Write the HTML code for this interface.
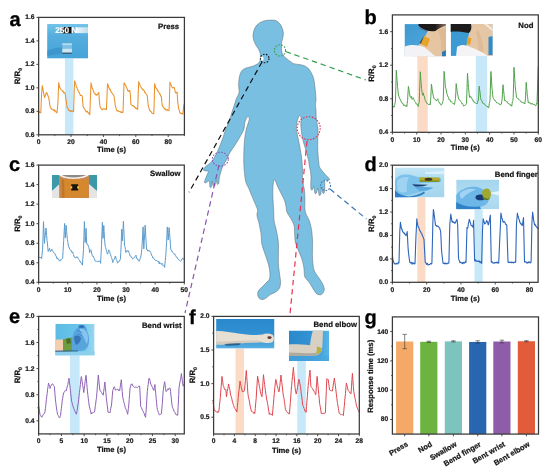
<!DOCTYPE html>
<html><head><meta charset="utf-8"><style>
html,body{margin:0;padding:0;background:#fff;overflow:hidden;}
svg{display:block;font-family:'Liberation Sans',Arial,sans-serif;font-weight:bold}
text{text-rendering:geometricPrecision;stroke:currentColor;stroke-width:0.22px;color:#1a1a1a}
.nos{stroke:none}
</style></head><body>
<svg width="550" height="474" viewBox="0 0 550 474">
<rect width="550" height="474" fill="#fff"/>
<rect x="64.90" y="58.60" width="8.50" height="76.20" fill="#c6e8f9"/>
<rect x="417.30" y="56.30" width="10.50" height="76.00" fill="#fcdbc6"/>
<rect x="475.80" y="56.00" width="11.40" height="76.30" fill="#c6e8f9"/>
<rect x="417.30" y="197.40" width="8.20" height="84.90" fill="#fcdbc6"/>
<rect x="474.50" y="209.30" width="8.20" height="73.00" fill="#c6e8f9"/>
<rect x="70.00" y="355.50" width="9.60" height="78.40" fill="#c6e8f9"/>
<rect x="235.50" y="348.60" width="8.50" height="85.40" fill="#fcdbc6"/>
<rect x="297.30" y="361.00" width="8.50" height="73.00" fill="#c6e8f9"/>
<path d="M38.80,112.72 L39.20,111.30 L39.60,112.55 L40.00,112.40 L40.40,112.64 L40.80,112.92 L41.20,102.79 L41.60,93.92 L41.95,88.95 L42.30,85.67 L42.75,87.88 L43.20,90.98 L43.67,93.23 L44.13,95.33 L44.60,97.43 L45.08,96.24 L45.55,95.12 L46.02,93.44 L46.50,92.44 L46.83,92.66 L47.17,93.38 L47.50,94.54 L47.97,95.76 L48.43,96.96 L48.90,98.64 L49.37,101.76 L49.83,105.11 L50.30,107.21 L50.67,107.69 L51.05,108.60 L51.42,108.41 L51.80,109.10 L52.27,109.74 L52.75,109.85 L53.23,109.91 L53.70,110.34 L54.17,109.44 L54.63,111.13 L55.10,110.76 L55.58,110.99 L56.05,112.15 L56.52,112.77 L57.00,112.84 L57.45,107.87 L57.90,103.51 L58.30,92.78 L58.70,82.60 L59.03,84.10 L59.37,85.63 L59.70,87.69 L60.10,87.81 L60.50,88.13 L60.90,89.25 L61.30,89.83 L61.70,90.12 L62.18,90.52 L62.65,91.48 L63.12,91.12 L63.60,92.84 L64.10,93.07 L64.60,92.62 L65.10,93.52 L65.55,96.26 L66.00,99.97 L66.33,101.18 L66.67,103.78 L67.00,106.55 L67.47,107.97 L67.93,108.07 L68.40,109.92 L68.88,110.42 L69.36,110.29 L69.84,111.26 L70.32,110.48 L70.80,111.22 L71.27,110.73 L71.73,111.60 L72.20,111.09 L72.67,110.97 L73.13,110.49 L73.60,111.69 L73.85,102.82 L74.10,94.27 L74.35,87.75 L74.60,80.82 L75.07,82.04 L75.53,83.55 L76.00,85.12 L76.47,87.15 L76.93,87.42 L77.40,88.99 L77.88,90.04 L78.35,91.18 L78.83,92.25 L79.30,92.56 L79.63,93.06 L79.97,94.33 L80.30,95.43 L80.78,95.49 L81.25,95.53 L81.72,95.56 L82.20,96.00 L82.65,101.01 L83.10,106.59 L83.57,106.99 L84.03,108.28 L84.50,109.16 L84.98,109.86 L85.47,110.21 L85.95,111.50 L86.43,111.59 L86.92,112.06 L87.40,111.28 L87.88,112.36 L88.36,112.75 L88.84,113.63 L89.32,113.12 L89.80,114.81 L90.10,106.93 L90.40,98.24 L90.70,90.56 L91.00,82.82 L91.37,84.52 L91.73,86.13 L92.10,88.02 L92.57,88.43 L93.05,89.97 L93.53,90.95 L94.00,92.72 L94.47,93.09 L94.95,94.03 L95.43,93.90 L95.90,94.93 L96.28,94.59 L96.65,95.28 L97.03,94.86 L97.40,94.39 L97.87,93.71 L98.33,93.40 L98.80,92.35 L99.05,95.82 L99.30,99.87 L99.75,104.37 L100.20,107.21 L100.67,107.90 L101.13,108.49 L101.60,109.23 L102.07,109.63 L102.55,109.50 L103.03,108.95 L103.50,108.82 L103.98,108.91 L104.47,109.08 L104.95,108.66 L105.43,109.21 L105.92,109.57 L106.40,109.42 L106.65,104.03 L106.90,98.41 L107.20,90.98 L107.50,83.80 L107.93,84.62 L108.37,85.98 L108.80,87.59 L109.26,88.39 L109.72,89.62 L110.18,89.14 L110.64,91.04 L111.10,91.43 L111.58,92.30 L112.07,93.20 L112.55,93.93 L113.03,94.57 L113.52,94.90 L114.00,96.07 L114.47,99.00 L114.93,102.65 L115.40,106.58 L115.87,107.37 L116.33,109.59 L116.80,110.46 L117.28,111.12 L117.77,110.59 L118.25,110.72 L118.73,111.16 L119.22,111.61 L119.70,111.39 L120.17,111.86 L120.64,111.85 L121.11,112.55 L121.59,111.88 L122.06,112.61 L122.53,112.14 L123.00,112.16 L123.25,105.35 L123.50,98.28 L123.75,90.70 L124.00,82.96 L124.47,83.29 L124.93,84.09 L125.40,85.07 L125.87,85.86 L126.33,87.10 L126.80,88.20 L127.27,88.83 L127.73,90.77 L128.20,90.98 L128.57,91.48 L128.95,90.89 L129.32,90.95 L129.70,90.18 L130.00,91.81 L130.30,94.13 L130.60,99.00 L130.90,104.34 L131.30,104.79 L131.70,105.10 L132.10,105.46 L132.50,105.61 L132.97,106.06 L133.45,105.60 L133.93,106.52 L134.40,106.38 L134.88,107.67 L135.35,108.20 L135.83,107.54 L136.30,108.75 L136.77,108.82 L137.23,108.66 L137.70,109.39 L137.95,101.44 L138.20,93.38 L138.45,87.71 L138.70,81.55 L139.17,82.90 L139.63,83.70 L140.10,85.62 L140.57,86.63 L141.03,86.93 L141.50,88.07 L141.88,88.62 L142.25,88.80 L142.62,89.96 L143.00,89.77 L143.47,89.81 L143.93,90.36 L144.40,91.08 L144.87,92.71 L145.33,92.64 L145.80,93.54 L146.27,94.18 L146.73,94.49 L147.20,95.80 L147.53,98.28 L147.87,102.20 L148.20,105.46 L148.67,107.19 L149.13,108.12 L149.60,110.72 L150.08,110.64 L150.56,111.27 L151.04,111.51 L151.52,112.16 L152.00,113.20 L152.45,113.47 L152.90,113.52 L153.35,113.80 L153.80,113.75 L154.05,106.11 L154.30,98.99 L154.60,83.71 L154.97,84.73 L155.33,86.29 L155.70,87.75 L156.17,88.02 L156.63,88.44 L157.10,89.45 L157.58,90.73 L158.06,90.85 L158.54,91.75 L159.02,92.59 L159.50,93.93 L159.97,93.68 L160.45,95.28 L160.93,96.39 L161.40,96.51 L161.80,101.62 L162.20,105.59 L162.60,105.81 L163.00,106.67 L163.40,106.66 L163.80,107.60 L164.26,108.82 L164.72,108.25 L165.18,109.59 L165.64,109.29 L166.10,110.05 L166.58,109.95 L167.07,109.38 L167.55,110.20 L168.03,110.70 L168.52,110.46 L169.00,110.63 L169.25,105.03 L169.50,98.47 L169.90,82.00 L170.28,83.06 L170.65,84.30 L171.03,84.53 L171.40,85.73 L171.87,86.90 L172.33,87.34 L172.80,87.90 L173.27,87.51 L173.73,87.62 L174.20,87.61 L174.67,89.29 L175.13,91.29 L175.60,92.84 L175.97,93.01 L176.35,92.63 L176.72,92.59 L177.10,92.14 L177.40,96.55 L177.70,101.43 L178.10,104.51 L178.50,107.86 L178.97,109.64 L179.45,110.56 L179.93,112.83 L180.40,113.33 L180.88,112.96 L181.36,113.63 L181.84,113.67 L182.32,113.48 L182.80,114.29 L183.27,110.16 L183.73,105.89 L184.20,103.78" fill="none" stroke="#ea912a" stroke-width="1.05" stroke-linejoin="round"/>
<path d="M392.40,106.81 L392.82,107.62 L393.24,106.43 L393.66,106.01 L394.08,107.11 L394.50,105.69 L394.83,104.23 L395.17,102.75 L395.50,100.05 L395.90,85.01 L396.30,70.15 L396.70,75.79 L397.10,80.32 L397.50,86.29 L397.90,89.70 L398.30,93.96 L398.70,96.14 L399.15,96.80 L399.60,98.50 L400.05,98.89 L400.50,100.14 L400.96,100.94 L401.42,102.31 L401.88,102.33 L402.34,103.48 L402.80,103.20 L403.23,104.26 L403.65,105.67 L404.07,104.90 L404.50,105.17 L404.96,105.11 L405.42,106.13 L405.88,106.12 L406.34,105.66 L406.80,106.71 L407.20,103.32 L407.60,100.35 L408.00,92.50 L408.40,86.42 L408.77,88.59 L409.13,91.15 L409.50,93.76 L409.83,95.05 L410.17,96.74 L410.50,97.37 L410.90,97.26 L411.30,96.27 L411.75,98.13 L412.20,99.38 L412.63,98.70 L413.07,97.57 L413.50,98.34 L413.88,99.52 L414.25,100.18 L414.62,101.31 L415.00,101.78 L415.38,102.32 L415.75,102.56 L416.12,104.14 L416.50,104.07 L416.93,104.22 L417.35,104.27 L417.77,105.28 L418.20,106.48 L418.53,104.75 L418.87,102.93 L419.20,102.67 L419.57,92.47 L419.93,82.06 L420.30,71.77 L420.70,77.48 L421.10,82.72 L421.50,88.36 L421.83,89.97 L422.17,93.37 L422.50,95.11 L422.90,95.35 L423.30,92.84 L423.63,94.96 L423.97,95.93 L424.30,96.14 L424.63,97.91 L424.97,99.45 L425.30,100.77 L425.70,100.91 L426.10,101.77 L426.50,102.98 L426.95,103.57 L427.40,103.50 L427.85,103.96 L428.30,104.49 L428.77,104.99 L429.25,104.11 L429.73,104.08 L430.20,104.86 L430.50,100.88 L430.80,97.72 L431.10,91.04 L431.40,84.23 L431.77,86.16 L432.13,89.71 L432.50,91.17 L432.83,94.09 L433.17,94.93 L433.50,96.90 L433.88,98.30 L434.25,98.31 L434.62,98.63 L435.00,99.29 L435.38,99.97 L435.75,99.97 L436.12,100.24 L436.50,101.00 L436.93,99.66 L437.37,99.28 L437.80,98.75 L438.20,100.55 L438.60,101.47 L439.00,102.60 L439.38,102.53 L439.75,103.03 L440.12,104.05 L440.50,104.01 L440.93,104.86 L441.37,105.07 L441.80,104.67 L442.27,103.29 L442.73,101.61 L443.20,100.81 L443.65,86.92 L444.10,71.35 L444.50,76.27 L444.90,80.06 L445.30,86.10 L445.77,88.25 L446.25,90.00 L446.73,93.12 L447.20,94.26 L447.65,95.90 L448.10,97.07 L448.55,97.41 L449.00,99.40 L449.38,100.12 L449.75,99.60 L450.12,100.21 L450.50,101.78 L450.92,101.79 L451.34,101.53 L451.76,102.26 L452.18,102.65 L452.60,102.93 L453.08,103.59 L453.55,103.58 L454.02,104.43 L454.50,104.45 L454.83,102.19 L455.17,100.44 L455.50,98.62 L455.85,91.43 L456.20,83.62 L456.57,87.20 L456.93,89.43 L457.30,92.76 L457.70,94.04 L458.10,96.25 L458.50,98.15 L458.88,99.41 L459.25,99.33 L459.62,99.75 L460.00,100.65 L460.40,100.79 L460.80,101.58 L461.20,102.00 L461.60,102.63 L462.00,103.90 L462.40,103.47 L462.80,104.34 L463.20,104.89 L463.60,105.96 L464.00,105.75 L464.42,105.59 L464.83,105.51 L465.25,105.41 L465.67,104.74 L466.08,104.15 L466.50,103.59 L466.83,93.94 L467.17,84.08 L467.50,73.25 L467.83,78.16 L468.17,83.24 L468.50,87.56 L468.83,90.95 L469.17,94.07 L469.50,97.44 L469.87,96.85 L470.23,95.86 L470.60,96.53 L470.93,97.46 L471.27,97.21 L471.60,98.19 L472.07,98.96 L472.53,100.04 L473.00,99.81 L473.47,101.79 L473.93,101.35 L474.40,102.69 L474.85,102.49 L475.30,102.62 L475.75,103.08 L476.20,103.92 L476.65,103.44 L477.10,104.02 L477.50,102.57 L477.90,100.59 L478.30,100.61 L478.75,93.37 L479.20,86.19 L479.53,89.35 L479.87,90.95 L480.20,93.97 L480.57,97.28 L480.93,99.39 L481.30,100.35 L481.74,100.26 L482.18,101.75 L482.62,103.16 L483.06,102.86 L483.50,103.40 L483.97,104.19 L484.44,103.88 L484.91,104.80 L485.39,105.47 L485.86,105.72 L486.33,106.09 L486.80,106.02 L487.22,106.68 L487.64,106.38 L488.06,107.33 L488.48,108.07 L488.90,106.65 L489.27,103.65 L489.63,102.13 L490.00,100.18 L490.45,85.99 L490.90,71.51 L491.27,76.30 L491.63,81.96 L492.00,88.60 L492.33,90.59 L492.67,94.71 L493.00,97.19 L493.40,98.30 L493.80,98.91 L494.20,99.58 L494.60,100.25 L495.00,100.04 L495.42,101.10 L495.84,101.43 L496.26,102.02 L496.68,102.92 L497.10,102.67 L497.58,102.75 L498.06,103.02 L498.54,103.49 L499.02,104.27 L499.50,103.82 L499.95,104.92 L500.40,104.69 L500.85,104.62 L501.30,104.27 L501.75,101.57 L502.20,98.32 L502.60,90.27 L503.00,84.76 L503.33,88.24 L503.67,90.89 L504.00,94.23 L504.35,98.13 L504.70,100.58 L505.16,100.08 L505.62,100.99 L506.08,101.43 L506.54,101.93 L507.00,101.39 L507.43,103.14 L507.87,102.77 L508.30,103.43 L508.73,103.57 L509.17,104.33 L509.60,104.06 L510.02,104.11 L510.44,105.01 L510.86,105.70 L511.28,105.17 L511.70,106.24 L512.08,103.82 L512.45,101.55 L512.83,100.62 L513.20,97.62 L513.60,83.28 L514.00,67.37 L514.40,73.94 L514.80,79.29 L515.20,85.61 L515.63,90.27 L516.07,93.62 L516.50,97.32 L516.90,97.53 L517.30,98.39 L517.70,97.96 L518.10,98.53 L518.50,99.43 L518.94,99.43 L519.38,99.82 L519.81,100.44 L520.25,100.74 L520.69,101.02 L521.12,102.23 L521.56,102.25 L522.00,102.68 L522.47,102.44 L522.93,102.56 L523.40,102.47 L523.87,103.34 L524.33,102.87 L524.80,103.93 L525.15,101.46 L525.50,98.76 L525.85,90.85 L526.20,82.40 L526.53,86.76 L526.87,89.90 L527.20,94.39 L527.53,96.41 L527.87,99.34 L528.20,102.61 L528.67,102.18 L529.13,103.20 L529.60,102.53 L530.07,102.65 L530.53,103.78 L531.00,104.31 L531.42,103.41 L531.83,103.87 L532.25,103.33 L532.67,104.07 L533.08,104.75 L533.50,104.46 L533.96,104.45 L534.42,104.28 L534.88,105.33 L535.34,105.75 L535.80,105.88 L536.20,104.85 L536.60,103.27 L537.00,103.83 L537.43,90.64 L537.87,78.27 L538.30,66.34" fill="none" stroke="#4ea24a" stroke-width="1.0" stroke-linejoin="round"/>
<path d="M38.30,256.89 L38.72,257.64 L39.15,257.39 L39.58,257.40 L40.00,257.63 L40.40,257.62 L40.80,256.94 L41.20,258.04 L41.60,258.70 L41.93,255.80 L42.27,252.27 L42.60,249.22 L43.05,236.01 L43.50,221.66 L43.83,228.52 L44.17,234.76 L44.50,243.43 L44.85,237.94 L45.20,235.83 L45.60,233.03 L46.00,228.03 L46.33,232.18 L46.67,235.48 L47.00,240.64 L47.40,243.19 L47.80,247.72 L48.20,251.46 L48.63,250.11 L49.07,250.22 L49.50,248.34 L49.83,249.68 L50.17,250.99 L50.50,251.81 L50.93,251.29 L51.37,250.57 L51.80,249.06 L52.20,249.71 L52.60,250.49 L53.00,251.33 L53.40,252.38 L53.80,252.40 L54.20,253.19 L54.60,253.46 L55.00,253.60 L55.48,255.38 L55.95,255.46 L56.42,256.93 L56.90,258.60 L57.37,257.92 L57.83,258.94 L58.30,258.76 L58.67,259.76 L59.05,259.80 L59.42,260.83 L59.80,261.25 L60.20,260.73 L60.60,260.58 L61.00,259.13 L61.42,259.21 L61.85,258.78 L62.28,258.59 L62.70,258.21 L63.03,251.56 L63.37,246.23 L63.70,240.76 L64.15,232.07 L64.60,223.45 L64.95,231.62 L65.30,237.80 L65.70,231.66 L66.10,225.33 L66.55,230.50 L67.00,235.88 L67.38,239.69 L67.75,241.40 L68.12,243.77 L68.50,246.72 L68.88,247.52 L69.25,247.45 L69.62,248.93 L70.00,249.83 L70.38,250.15 L70.75,250.78 L71.12,250.40 L71.50,250.70 L71.88,252.48 L72.25,252.76 L72.62,251.90 L73.00,253.10 L73.47,254.41 L73.93,256.06 L74.40,257.30 L74.80,257.16 L75.20,257.69 L75.60,257.87 L76.00,257.98 L76.40,257.13 L76.80,256.60 L77.20,257.63 L77.60,257.23 L78.00,258.12 L78.42,259.00 L78.83,259.46 L79.25,259.83 L79.67,260.70 L80.08,261.88 L80.50,261.66 L80.97,263.06 L81.45,263.58 L81.93,264.00 L82.40,265.18 L82.77,259.33 L83.13,255.28 L83.50,249.56 L83.95,235.64 L84.40,221.50 L84.80,232.66 L85.20,242.46 L85.65,235.92 L86.10,228.37 L86.40,236.40 L86.70,243.76 L87.12,243.58 L87.55,244.82 L87.98,244.89 L88.40,246.22 L88.80,247.55 L89.20,249.06 L89.60,252.80 L90.00,251.34 L90.40,250.21 L90.80,249.69 L91.17,250.74 L91.53,252.92 L91.90,254.00 L92.30,255.95 L92.70,256.31 L93.10,255.97 L93.50,256.79 L93.97,258.21 L94.45,258.55 L94.93,260.37 L95.40,261.38 L95.82,260.96 L96.24,260.98 L96.66,261.39 L97.08,261.75 L97.50,261.70 L97.92,261.08 L98.33,261.53 L98.75,260.85 L99.17,261.46 L99.58,260.88 L100.00,261.74 L100.30,262.02 L100.60,263.35 L101.05,254.40 L101.50,245.26 L101.95,233.08 L102.40,222.25 L102.70,230.41 L103.00,238.31 L103.40,231.41 L103.80,225.45 L104.15,231.57 L104.50,238.66 L104.90,243.01 L105.30,246.88 L105.70,247.47 L106.10,249.55 L106.50,251.05 L106.87,251.91 L107.23,253.58 L107.60,254.27 L108.00,252.29 L108.40,251.72 L108.80,249.85 L109.22,251.30 L109.65,251.50 L110.08,253.41 L110.50,254.21 L110.96,256.38 L111.42,257.23 L111.88,258.72 L112.34,260.23 L112.80,262.59 L113.20,261.35 L113.60,260.31 L114.00,259.52 L114.38,258.61 L114.75,258.89 L115.12,256.45 L115.50,256.00 L115.92,257.96 L116.34,259.47 L116.76,260.11 L117.18,261.81 L117.60,263.06 L118.07,262.60 L118.53,261.59 L119.00,261.78 L119.47,260.50 L119.93,260.53 L120.40,258.69 L120.80,252.55 L121.20,244.42 L121.45,236.21 L121.70,229.05 L122.05,234.33 L122.40,240.82 L122.73,233.65 L123.07,228.44 L123.40,221.22 L123.77,228.52 L124.13,236.97 L124.50,245.13 L124.97,246.66 L125.43,249.56 L125.90,252.58 L126.33,251.66 L126.77,250.89 L127.20,250.26 L127.67,251.39 L128.13,251.01 L128.60,250.90 L129.07,252.94 L129.55,253.67 L130.03,255.92 L130.50,256.09 L130.96,256.20 L131.42,256.76 L131.88,258.18 L132.34,258.20 L132.80,258.96 L133.27,258.62 L133.73,258.14 L134.20,257.58 L134.67,256.75 L135.13,256.47 L135.60,255.83 L136.00,255.13 L136.40,257.99 L136.80,257.72 L137.20,259.12 L137.65,258.89 L138.10,260.09 L138.55,260.73 L139.00,261.39 L139.40,260.91 L139.80,259.98 L140.20,258.39 L140.60,257.98 L141.00,255.54 L141.40,252.69 L141.80,249.38 L142.23,242.04 L142.67,234.73 L143.10,226.92 L143.45,237.18 L143.80,248.87 L144.27,240.38 L144.73,233.05 L145.20,225.08 L145.67,234.08 L146.13,242.32 L146.60,249.43 L147.00,250.03 L147.40,249.68 L147.80,251.11 L148.20,250.97 L148.65,250.24 L149.10,251.32 L149.55,251.00 L150.00,251.13 L150.40,252.12 L150.80,252.66 L151.20,253.74 L151.60,255.31 L152.00,256.01 L152.44,256.23 L152.88,258.27 L153.32,257.86 L153.76,258.33 L154.20,258.91 L154.67,259.86 L155.13,260.29 L155.60,260.25 L156.07,260.84 L156.53,260.03 L157.00,260.86 L157.45,261.09 L157.90,261.60 L158.35,262.11 L158.80,261.21 L159.25,263.91 L159.70,262.32 L160.16,263.25 L160.62,263.84 L161.08,264.21 L161.54,264.28 L162.00,263.16 L162.43,264.40 L162.87,265.65 L163.30,265.24 L163.73,265.56 L164.17,265.34 L164.60,267.39 L164.93,264.13 L165.27,260.54 L165.60,257.96 L165.93,252.84 L166.27,247.23 L166.60,242.49 L166.95,234.78 L167.30,226.97 L167.75,233.96 L168.20,240.03 L168.65,233.50 L169.10,227.60 L169.53,232.64 L169.95,237.87 L170.38,244.52 L170.80,249.33 L171.23,250.19 L171.65,251.06 L172.07,250.87 L172.50,252.31 L172.98,252.82 L173.46,253.16 L173.94,253.99 L174.42,254.05 L174.90,253.97 L175.33,255.38 L175.77,255.58 L176.20,256.92 L176.63,257.13 L177.07,257.26 L177.50,258.03 L177.98,259.19 L178.47,259.64 L178.95,259.83 L179.43,260.41 L179.92,260.63 L180.40,261.25 L180.80,261.13 L181.20,260.35 L181.60,260.10 L182.00,258.98 L182.40,258.39 L182.80,258.04 L183.20,258.30 L183.60,259.30 L184.00,259.40 L184.40,258.54" fill="none" stroke="#5b9bcc" stroke-width="1.0" stroke-linejoin="round"/>
<path d="M392.40,255.78 L392.80,258.88 L393.20,260.72 L393.60,261.87 L394.07,263.34 L394.53,263.26 L395.00,264.13 L395.42,263.72 L395.83,264.02 L396.25,263.81 L396.67,263.26 L397.08,263.65 L397.50,263.49 L397.88,263.87 L398.25,262.69 L398.62,262.11 L399.00,262.83 L399.40,246.79 L399.80,230.68 L400.10,226.97 L400.40,222.20 L400.77,224.61 L401.13,226.72 L401.50,229.00 L401.90,228.87 L402.30,230.75 L402.70,231.76 L403.10,232.06 L403.57,232.73 L404.03,233.40 L404.50,233.03 L404.88,234.13 L405.25,234.73 L405.62,235.07 L406.00,235.68 L406.40,234.10 L406.80,233.62 L407.20,231.58 L407.53,237.55 L407.87,244.27 L408.20,249.67 L408.57,253.20 L408.95,256.50 L409.32,259.04 L409.70,262.06 L410.16,262.74 L410.62,262.96 L411.08,262.18 L411.54,262.59 L412.00,264.13 L412.43,263.73 L412.86,262.62 L413.29,263.00 L413.71,263.69 L414.14,263.26 L414.57,263.98 L415.00,263.84 L415.33,254.44 L415.67,244.06 L416.00,235.30 L416.40,228.03 L416.80,218.84 L417.20,222.09 L417.60,224.20 L418.00,226.31 L418.43,227.15 L418.87,227.80 L419.30,229.10 L419.70,230.37 L420.10,230.97 L420.50,231.58 L420.83,232.29 L421.17,233.10 L421.50,233.31 L421.88,233.80 L422.25,235.31 L422.62,236.30 L423.00,236.95 L423.33,237.23 L423.67,238.73 L424.00,239.32 L424.40,247.41 L424.80,254.19 L425.20,261.93 L425.65,262.74 L426.10,263.23 L426.55,264.38 L427.00,263.79 L427.43,263.29 L427.86,264.75 L428.29,264.97 L428.71,264.98 L429.14,264.45 L429.57,264.57 L430.00,264.37 L430.48,263.51 L430.95,263.65 L431.42,263.95 L431.90,263.24 L432.35,245.16 L432.80,224.29 L433.10,216.76 L433.40,209.43 L433.77,211.66 L434.13,214.45 L434.50,217.38 L434.87,220.04 L435.23,223.46 L435.60,225.31 L436.07,225.66 L436.53,225.47 L437.00,226.41 L437.46,226.33 L437.92,226.10 L438.38,226.58 L438.84,227.15 L439.30,227.86 L439.77,228.52 L440.23,230.02 L440.70,231.96 L441.10,240.14 L441.50,249.43 L441.88,253.73 L442.25,256.72 L442.62,259.72 L443.00,263.14 L443.43,262.98 L443.86,263.49 L444.29,263.20 L444.71,263.85 L445.14,263.04 L445.57,263.32 L446.00,263.87 L446.48,263.46 L446.97,263.88 L447.45,263.40 L447.93,263.03 L448.42,263.25 L448.90,262.77 L449.35,243.29 L449.80,224.49 L450.13,220.98 L450.47,217.46 L450.80,214.06 L451.20,216.78 L451.60,218.94 L452.00,221.85 L452.38,221.87 L452.75,221.43 L453.12,222.54 L453.50,222.57 L453.88,222.06 L454.25,222.67 L454.62,223.28 L455.00,223.13 L455.40,222.74 L455.80,221.69 L456.20,221.07 L456.60,219.83 L457.00,219.40 L457.35,221.95 L457.70,225.34 L458.10,240.73 L458.50,258.18 L458.88,259.73 L459.25,260.54 L459.62,261.39 L460.00,262.77 L460.43,262.23 L460.86,262.33 L461.29,262.65 L461.71,262.85 L462.14,263.47 L462.57,262.70 L463.00,263.69 L463.43,262.31 L463.86,262.51 L464.29,262.69 L464.71,263.08 L465.14,262.08 L465.57,261.19 L466.00,262.22 L466.33,250.67 L466.67,238.85 L467.00,227.53 L467.35,227.70 L467.70,228.07 L468.07,226.13 L468.45,222.93 L468.82,222.49 L469.20,219.20 L469.64,220.23 L470.08,221.90 L470.52,222.81 L470.96,225.04 L471.40,225.63 L471.77,225.50 L472.15,226.04 L472.52,226.54 L472.90,227.16 L473.25,224.34 L473.60,220.42 L473.93,234.74 L474.27,247.22 L474.60,260.45 L475.05,261.08 L475.50,259.83 L475.95,260.43 L476.40,261.27 L476.85,261.11 L477.30,261.21 L477.74,261.53 L478.18,261.18 L478.62,261.50 L479.06,261.06 L479.50,260.94 L479.94,262.59 L480.38,261.74 L480.82,262.02 L481.26,263.19 L481.70,263.22 L482.10,246.12 L482.50,229.77 L482.85,224.58 L483.20,218.77 L483.57,220.58 L483.95,221.49 L484.32,222.58 L484.70,223.97 L485.14,223.37 L485.58,223.32 L486.02,222.59 L486.46,220.50 L486.90,221.14 L487.27,221.29 L487.65,222.25 L488.02,224.35 L488.40,224.79 L488.88,222.57 L489.35,220.82 L489.82,217.61 L490.30,215.10 L490.63,231.17 L490.97,247.09 L491.30,262.27 L491.75,261.37 L492.20,261.88 L492.65,262.20 L493.10,263.26 L493.55,262.85 L494.00,262.92 L494.47,263.10 L494.94,262.41 L495.41,262.80 L495.88,262.83 L496.35,262.16 L496.82,262.63 L497.29,262.92 L497.76,262.17 L498.23,263.08 L498.70,263.07 L499.07,254.90 L499.45,245.76 L499.82,237.87 L500.20,230.20 L500.55,221.79 L500.90,212.95 L501.35,215.27 L501.80,217.68 L502.25,218.83 L502.70,220.90 L503.18,222.27 L503.65,221.40 L504.12,221.72 L504.60,221.65 L505.04,222.55 L505.48,224.29 L505.92,224.27 L506.36,224.52 L506.80,225.38 L507.20,237.88 L507.60,250.31 L508.00,261.67 L508.43,262.42 L508.86,261.93 L509.29,262.39 L509.71,262.54 L510.14,262.65 L510.57,262.24 L511.00,262.43 L511.47,262.73 L511.94,261.86 L512.41,262.53 L512.88,262.67 L513.35,262.90 L513.82,262.37 L514.29,262.28 L514.76,262.41 L515.23,261.98 L515.70,262.21 L516.05,243.89 L516.40,225.23 L516.73,220.91 L517.07,217.55 L517.40,213.01 L517.88,216.00 L518.36,216.99 L518.84,218.97 L519.32,219.96 L519.80,222.06 L520.22,222.92 L520.63,223.79 L521.05,223.31 L521.47,224.96 L521.88,225.10 L522.30,225.43 L522.70,223.32 L523.10,220.26 L523.50,217.55 L523.83,232.13 L524.17,247.33 L524.50,262.01 L524.94,261.97 L525.38,261.67 L525.81,261.94 L526.25,262.43 L526.69,262.90 L527.12,262.35 L527.56,263.09 L528.00,262.49 L528.44,261.95 L528.89,262.73 L529.33,261.95 L529.77,262.56 L530.21,262.85 L530.66,262.18 L531.10,262.25 L531.50,244.10 L531.90,223.70 L532.25,217.81 L532.60,212.16 L532.98,214.70 L533.35,217.65 L533.73,220.82 L534.10,222.47 L534.54,224.85 L534.98,224.29 L535.42,224.89 L535.86,226.24 L536.30,226.60 L536.70,226.59 L537.10,227.85 L537.50,227.80 L537.90,228.59 L538.30,228.79" fill="none" stroke="#2c66bb" stroke-width="1.1" stroke-linejoin="round"/>
<path d="M38.30,403.30 L38.72,406.43 L39.15,409.04 L39.58,411.80 L40.00,414.72 L40.33,414.91 L40.67,415.23 L41.00,415.90 L41.33,416.94 L41.67,416.74 L42.00,417.21 L42.38,416.28 L42.75,415.63 L43.12,414.92 L43.50,413.99 L43.90,413.84 L44.30,413.52 L44.70,413.40 L45.03,411.27 L45.37,408.82 L45.70,406.32 L46.03,402.98 L46.37,399.64 L46.70,397.12 L47.15,393.59 L47.60,389.31 L48.05,386.60 L48.50,383.00 L48.90,384.73 L49.30,385.10 L49.70,386.39 L50.10,388.47 L50.57,386.50 L51.03,385.80 L51.50,384.61 L51.93,384.34 L52.37,383.72 L52.80,384.01 L53.20,385.11 L53.60,385.60 L54.00,386.28 L54.40,386.67 L54.85,392.90 L55.30,398.18 L55.75,402.51 L56.20,405.75 L56.63,409.12 L57.07,411.29 L57.50,414.52 L57.90,415.15 L58.30,415.36 L58.70,416.50 L59.10,417.53 L59.50,417.97 L59.83,417.41 L60.17,416.30 L60.50,415.76 L60.92,411.86 L61.35,408.55 L61.78,405.17 L62.20,401.15 L62.67,398.30 L63.13,395.21 L63.60,393.06 L64.07,392.35 L64.53,391.30 L65.00,390.89 L65.43,390.95 L65.87,390.32 L66.30,390.78 L66.70,388.81 L67.10,387.04 L67.50,385.83 L67.88,384.58 L68.25,381.72 L68.62,380.35 L69.00,378.25 L69.40,382.07 L69.80,385.19 L70.25,388.86 L70.70,393.19 L71.15,397.02 L71.60,401.34 L72.07,402.73 L72.55,405.20 L73.03,406.22 L73.50,408.16 L73.98,408.84 L74.47,410.18 L74.95,411.21 L75.43,412.33 L75.92,413.65 L76.40,414.22 L76.77,411.97 L77.13,410.53 L77.50,407.90 L77.88,404.99 L78.25,402.86 L78.62,399.95 L79.00,395.98 L79.46,392.59 L79.92,388.82 L80.38,384.66 L80.84,380.01 L81.30,376.55 L81.72,378.43 L82.13,381.33 L82.55,384.15 L82.97,386.80 L83.38,389.79 L83.80,392.57 L84.24,388.69 L84.68,385.70 L85.12,381.47 L85.56,378.13 L86.00,375.31 L86.38,379.07 L86.75,383.73 L87.12,387.53 L87.50,391.92 L87.90,395.22 L88.30,398.57 L88.70,401.64 L89.10,405.02 L89.52,406.99 L89.94,408.91 L90.36,410.27 L90.78,412.20 L91.20,414.03 L91.60,413.01 L92.00,412.51 L92.40,413.30 L92.80,412.87 L93.22,412.43 L93.65,412.53 L94.08,412.08 L94.50,411.93 L94.83,410.06 L95.17,406.96 L95.50,405.33 L95.83,402.07 L96.17,399.71 L96.50,397.59 L96.95,392.20 L97.40,386.07 L97.85,381.16 L98.30,375.05 L98.70,378.91 L99.10,382.94 L99.50,387.00 L99.90,390.01 L100.30,390.98 L100.70,391.40 L101.10,391.49 L101.50,392.46 L101.95,393.64 L102.40,393.68 L102.85,394.49 L103.30,395.20 L103.70,391.28 L104.10,388.59 L104.50,385.31 L104.90,381.97 L105.37,387.40 L105.83,392.31 L106.30,397.80 L106.72,401.16 L107.15,404.54 L107.58,408.00 L108.00,412.06 L108.40,412.44 L108.80,411.92 L109.20,412.65 L109.60,412.14 L110.00,412.69 L110.38,410.51 L110.75,408.33 L111.12,406.98 L111.50,405.03 L111.93,400.10 L112.37,395.29 L112.80,390.36 L113.23,389.29 L113.67,387.76 L114.10,386.69 L114.57,387.31 L115.03,388.95 L115.50,390.18 L115.90,390.34 L116.30,390.17 L116.70,389.77 L117.10,389.36 L117.50,388.86 L117.94,389.74 L118.38,390.48 L118.82,390.81 L119.26,389.57 L119.70,390.44 L120.10,387.83 L120.50,384.84 L120.90,382.52 L121.30,379.72 L121.77,385.49 L122.23,391.62 L122.70,397.04 L123.12,398.88 L123.53,400.52 L123.95,402.77 L124.37,403.50 L124.78,405.61 L125.20,407.58 L125.62,408.32 L126.03,409.65 L126.45,410.17 L126.87,411.59 L127.28,412.79 L127.70,414.29 L128.07,410.93 L128.43,408.34 L128.80,405.01 L129.20,399.37 L129.60,394.22 L130.00,388.21 L130.47,386.87 L130.93,384.99 L131.40,383.85 L131.87,384.64 L132.33,384.21 L132.80,385.86 L133.27,386.06 L133.73,386.77 L134.20,387.27 L134.69,387.56 L135.17,386.92 L135.66,387.05 L136.14,387.04 L136.63,387.41 L137.11,387.63 L137.60,387.57 L138.02,387.16 L138.44,386.54 L138.86,385.85 L139.28,386.33 L139.70,385.96 L140.03,392.94 L140.37,400.21 L140.70,406.55 L141.18,407.50 L141.66,407.71 L142.14,409.69 L142.62,410.43 L143.10,411.15 L143.52,412.48 L143.93,412.91 L144.35,414.02 L144.77,415.84 L145.18,416.34 L145.60,417.34 L146.05,411.27 L146.50,405.24 L146.90,397.93 L147.30,391.52 L147.73,387.58 L148.15,384.77 L148.57,381.33 L149.00,378.19 L149.48,378.83 L149.96,380.39 L150.44,382.99 L150.92,384.35 L151.40,385.05 L151.82,386.11 L152.23,387.26 L152.65,387.61 L153.07,389.50 L153.48,389.42 L153.90,390.45 L154.23,387.67 L154.57,387.11 L154.90,384.53 L155.32,389.64 L155.74,393.27 L156.16,398.30 L156.58,402.77 L157.00,407.38 L157.40,409.42 L157.80,410.86 L158.20,411.93 L158.60,412.68 L159.00,414.52 L159.48,414.68 L159.96,414.40 L160.44,414.41 L160.92,414.37 L161.40,413.89 L161.85,408.69 L162.30,403.57 L162.75,396.50 L163.20,390.73 L163.67,388.00 L164.13,384.22 L164.60,381.66 L165.07,384.57 L165.53,388.42 L166.00,391.61 L166.40,391.27 L166.80,390.89 L167.20,390.44 L167.60,389.95 L168.00,388.65 L168.42,389.76 L168.84,388.80 L169.26,388.21 L169.68,388.08 L170.10,388.11 L170.52,391.37 L170.94,395.29 L171.36,398.99 L171.78,403.07 L172.20,406.34 L172.69,407.85 L173.17,408.89 L173.66,409.80 L174.14,411.38 L174.63,412.04 L175.11,412.70 L175.60,414.30 L176.02,414.38 L176.44,414.47 L176.86,414.70 L177.28,415.59 L177.70,414.98 L178.10,407.61 L178.50,399.91 L178.75,394.46 L179.00,387.98 L179.48,384.94 L179.96,382.01 L180.44,379.85 L180.92,377.14 L181.40,373.54 L181.85,376.97 L182.30,380.58 L182.75,383.84 L183.20,386.13 L183.53,385.59 L183.87,385.16 L184.20,383.81" fill="none" stroke="#8e62b6" stroke-width="1.0" stroke-linejoin="round"/>
<path d="M213.00,401.64 L213.37,404.34 L213.73,406.81 L214.10,410.02 L214.57,410.48 L215.05,410.25 L215.53,411.16 L216.00,411.89 L216.38,411.72 L216.75,412.13 L217.12,411.76 L217.50,412.58 L217.97,411.59 L218.43,412.30 L218.90,411.24 L219.37,406.55 L219.83,401.88 L220.30,397.45 L220.73,392.08 L221.15,386.66 L221.57,381.43 L222.00,376.43 L222.40,379.44 L222.80,381.95 L223.20,385.43 L223.60,386.08 L224.00,387.50 L224.40,388.90 L224.87,389.74 L225.33,389.22 L225.80,389.51 L226.15,393.55 L226.50,396.80 L226.83,394.61 L227.17,391.54 L227.50,390.00 L227.87,388.46 L228.23,386.37 L228.60,383.93 L229.07,386.54 L229.53,388.23 L230.00,390.56 L230.43,393.96 L230.87,395.64 L231.30,397.08 L231.77,398.68 L232.23,400.99 L232.70,402.23 L233.17,404.27 L233.63,405.45 L234.10,407.23 L234.57,408.18 L235.03,408.53 L235.50,409.02 L235.97,410.08 L236.43,411.05 L236.90,412.02 L237.33,407.24 L237.77,402.41 L238.20,397.78 L238.65,393.13 L239.10,389.79 L239.55,385.85 L240.00,381.12 L240.48,383.28 L240.96,385.88 L241.44,387.88 L241.92,389.94 L242.40,392.04 L242.82,391.55 L243.24,391.12 L243.66,391.49 L244.08,391.39 L244.50,390.32 L244.95,385.67 L245.40,380.77 L245.85,375.54 L246.30,370.43 L246.70,376.26 L247.10,381.40 L247.50,387.77 L247.90,393.39 L248.30,396.37 L248.70,398.07 L249.10,399.75 L249.50,401.99 L249.97,404.95 L250.45,407.26 L250.93,409.11 L251.40,411.35 L251.89,411.18 L252.37,411.88 L252.86,412.23 L253.34,412.33 L253.83,413.50 L254.31,412.53 L254.80,413.45 L255.27,408.34 L255.73,403.05 L256.20,398.19 L256.67,389.97 L257.13,383.06 L257.60,376.23 L258.05,378.77 L258.50,381.12 L258.95,383.52 L259.40,386.71 L259.85,388.49 L260.30,391.19 L260.73,393.30 L261.15,394.81 L261.57,395.90 L262.00,396.69 L262.38,391.14 L262.75,385.58 L263.12,379.94 L263.50,374.65 L263.88,378.54 L264.25,381.47 L264.62,384.43 L265.00,387.72 L265.40,390.33 L265.80,393.92 L266.20,395.53 L266.60,399.09 L267.05,400.90 L267.50,403.45 L267.95,405.72 L268.40,409.00 L268.85,411.05 L269.30,414.46 L269.74,413.32 L270.19,413.50 L270.63,414.30 L271.07,414.49 L271.51,414.39 L271.96,413.98 L272.40,415.40 L272.88,409.71 L273.36,404.27 L273.84,398.54 L274.32,393.59 L274.80,387.79 L275.13,385.00 L275.47,381.92 L275.80,379.43 L276.23,380.82 L276.65,382.86 L277.07,385.37 L277.50,387.06 L277.88,388.25 L278.25,389.45 L278.62,391.14 L279.00,391.85 L279.40,388.93 L279.80,386.16 L280.20,382.26 L280.60,378.52 L281.00,375.06 L281.42,379.27 L281.84,382.53 L282.26,386.14 L282.68,390.17 L283.10,393.79 L283.53,396.75 L283.97,398.20 L284.40,401.54 L284.73,403.45 L285.07,406.49 L285.40,409.41 L285.80,410.08 L286.20,411.08 L286.60,411.30 L287.00,411.67 L287.42,412.65 L287.83,412.38 L288.25,413.02 L288.67,413.81 L289.08,413.65 L289.50,413.76 L289.92,407.91 L290.34,402.55 L290.76,396.93 L291.18,390.77 L291.60,385.78 L292.05,380.64 L292.50,376.45 L292.95,371.56 L293.40,367.42 L293.80,372.37 L294.20,377.07 L294.60,382.03 L295.00,387.23 L295.40,389.86 L295.80,392.05 L296.20,394.03 L296.63,392.09 L297.07,390.53 L297.50,387.40 L297.97,385.10 L298.43,381.53 L298.90,379.26 L299.32,380.86 L299.75,383.24 L300.18,385.15 L300.60,387.79 L301.00,391.25 L301.40,394.74 L301.80,396.88 L302.20,400.35 L302.60,405.07 L303.08,405.60 L303.55,406.84 L304.02,408.60 L304.50,409.05 L304.90,411.07 L305.30,411.05 L305.70,410.99 L306.10,412.41 L306.52,406.52 L306.94,401.12 L307.36,396.40 L307.78,391.10 L308.20,385.54 L308.65,381.70 L309.10,377.27 L309.55,373.26 L310.00,370.12 L310.45,378.56 L310.90,386.55 L311.37,387.23 L311.83,387.66 L312.30,388.45 L312.77,388.87 L313.23,390.52 L313.70,390.40 L314.12,391.56 L314.54,392.24 L314.96,392.57 L315.38,394.56 L315.80,394.57 L316.23,388.43 L316.67,382.74 L317.10,376.38 L317.52,381.09 L317.93,385.13 L318.35,390.05 L318.77,394.25 L319.18,398.13 L319.60,403.37 L320.03,405.64 L320.45,407.76 L320.88,410.85 L321.30,413.45 L321.76,413.96 L322.21,413.00 L322.67,413.60 L323.12,413.27 L323.58,413.52 L324.03,413.21 L324.49,413.28 L324.94,413.48 L325.40,412.88 L325.87,401.06 L326.33,390.30 L326.80,378.65 L327.27,379.07 L327.73,379.50 L328.20,379.43 L328.67,383.39 L329.13,386.42 L329.60,389.95 L330.05,390.42 L330.50,390.55 L330.95,390.53 L331.40,390.82 L331.85,390.72 L332.30,390.99 L332.72,388.49 L333.14,385.98 L333.56,382.78 L333.98,380.47 L334.40,378.10 L334.87,382.09 L335.33,385.26 L335.80,389.54 L336.27,393.30 L336.73,397.28 L337.20,401.21 L337.60,403.58 L338.00,406.17 L338.40,408.42 L338.80,410.75 L339.20,413.41 L339.67,413.73 L340.13,414.22 L340.60,414.15 L341.07,414.52 L341.53,414.99 L342.00,414.39 L342.47,414.86 L342.93,415.38 L343.40,415.43 L343.82,410.50 L344.24,406.65 L344.66,401.71 L345.08,396.83 L345.50,393.29 L345.95,387.37 L346.40,383.01 L346.85,384.68 L347.30,386.86 L347.75,388.92 L348.20,390.33 L348.67,391.15 L349.13,391.70 L349.60,391.96 L350.07,393.30 L350.53,393.51 L351.00,393.91 L351.47,386.88 L351.93,380.10 L352.40,373.37 L352.87,379.59 L353.33,386.62 L353.80,391.72 L354.25,394.04 L354.70,396.89 L355.15,398.51 L355.60,401.32 L356.05,403.30 L356.50,405.92 L356.95,406.91 L357.40,408.28 L357.85,409.19 L358.30,410.36 L358.75,411.15 L359.20,412.39" fill="none" stroke="#e0474f" stroke-width="1.0" stroke-linejoin="round"/>
<defs><linearGradient id="ga" x1="0" y1="0" x2="0" y2="1"><stop offset="0" stop-color="#74c4ea"/><stop offset="0.35" stop-color="#55aedd"/><stop offset="1" stop-color="#45a3d8"/></linearGradient></defs>
<clipPath id="cp1"><rect x="47.1" y="23.9" width="40.90" height="34.70"/></clipPath>
<g clip-path="url(#cp1)">
<rect x="47.1" y="23.9" width="40.90" height="34.70" fill="url(#ga)"/>
<path d="M47,51 C53,48 58,47 63,47.5 L63,53.5 C58,54 52,55 47,56 Z" fill="#2f86c2" opacity="0.45"/>
<rect x="62.3" y="43.5" width="9.6" height="10.6" fill="#8cc6e6" opacity="0.8"/>
<rect x="62.3" y="43.5" width="9.6" height="1.2" fill="#d8ecf6" opacity="0.9"/>
<rect x="62.3" y="48.8" width="9.6" height="3.8" fill="#e4f1f8" opacity="0.75"/>
<rect x="62.3" y="52.6" width="9.6" height="1.4" fill="#25405a" opacity="0.75"/>
<defs><linearGradient id="ga2" x1="0" y1="0" x2="1" y2="0"><stop offset="0" stop-color="#ffffff"/><stop offset="1" stop-color="#c8dfec"/></linearGradient></defs>
<rect x="76" y="27.3" width="12" height="5.8" fill="url(#ga2)" opacity="0.9"/>
<rect x="61.8" y="27.0" width="10" height="6.4" fill="#111"/>
<text x="55.2" y="33.3" font-size="8.3" fill="#fff" style="stroke:#fff;stroke-width:0.15px">250 N</text>
</g>
<defs><linearGradient id="gb1" x1="0" y1="0" x2="1" y2="1"><stop offset="0" stop-color="#3d98d0"/><stop offset="1" stop-color="#5aaee0"/></linearGradient></defs>
<clipPath id="cp2"><rect x="404.5" y="24.1" width="41.40" height="32.20"/></clipPath>
<g clip-path="url(#cp2)">
<rect x="404.5" y="24.1" width="41.40" height="32.20" fill="url(#gb1)"/>
<path d="M431,24 C428,32 424,38 419,45 L414,57 L446,57 L446,24 Z" fill="#e6c6a2"/>
<path d="M438,30 C441,38 442,45 441,52 L446,56 L446,28 Z" fill="#d9b48e" opacity="0.7"/>
<defs><linearGradient id="ghair" x1="0" y1="0" x2="1" y2="0"><stop offset="0" stop-color="#1c1818"/><stop offset="0.6" stop-color="#1e1a1a"/><stop offset="1" stop-color="#8a7262"/></linearGradient></defs>
<path d="M418.5,24 L446,24 L446,25.5 C442,26.5 438.5,28.5 435.5,31 C432,31.6 429,31.2 426,30.2 C423,29.2 420.5,27.5 418.5,25.8 Z" fill="url(#ghair)"/>
<path d="M419,27 C422,28.5 425,30 428,30.8 L427,31.6 C424,31 421,29.8 419,28.5 Z" fill="#5a6a7a" opacity="0.6"/>
<path d="M424,36 L430,39 L427,47 L421,44 Z" fill="#e7a427"/>
<path d="M422.5,38 L424,36 L421,44 L419.5,43 Z" fill="#3a3a3a" opacity="0.8"/>
<path d="M404,47 C410,44 418,45 424,47 C428,50 432,53 436,57 L404,57 Z" fill="#f3f3f5"/>
<path d="M442,52 L446,50 L446,57 L442,57 Z" fill="#2a7ab8"/>
</g>
<clipPath id="cp3"><rect x="450.7" y="24.1" width="41.80" height="31.80"/></clipPath>
<g clip-path="url(#cp3)">
<rect x="450.7" y="24.1" width="41.80" height="31.80" fill="#3c9ad2"/>
<path d="M468,24 L493,24 L493,56 L466,56 C466,48 467,40 469,34 Z" fill="#e5c7a5"/>
<path d="M478,30 C482,38 484,46 483,56 L478,56 C479,48 478,40 476,32 Z" fill="#d7b590" opacity="0.6"/>
<path d="M450,24 L471,24 C472,28 471,31 469,33 C463,32 456,31 450,32 Z" fill="#1d1b1b"/>
<path d="M488.5,37 L493,36 L493,55 L488.5,55 Z" fill="#2f8ccb"/>
<path d="M484,24 L487,24 L493,29 L493,31.5 Z" fill="#f4ece6"/>
<path d="M467.5,37 L471.5,38.5 L470,45 L466.5,44 Z" fill="#e2a02d"/>
<path d="M457,47 C462,44 466,45 470,47 C478,50 485,53 489,57 L456,57 Z" fill="#f4f4f6"/>
</g>
<clipPath id="cp4"><rect x="51.8" y="175.0" width="45.30" height="23.00"/></clipPath>
<g clip-path="url(#cp4)">
<rect x="51.8" y="175.0" width="45.30" height="23.00" fill="#e6e4e2"/>
<path d="M51.8,175 L60,175 L59.5,184 L51.8,191 Z" fill="#3c99aa"/>
<path d="M88.5,175 L97.1,175 L97.1,191 L89,184 Z" fill="#3c99aa"/>
<path d="M59,175 L89,175 L89,198 L59.2,198 Z" fill="#c9894c"/>
<path d="M61.5,179.6 L87.8,179.6 L87.5,197.6 L62,197.6 Z" fill="#d5882e"/>
<path d="M61.5,179.6 L64,179.6 L64.5,197.6 L62,197.6 Z" fill="#b86f2a" opacity="0.7"/>
<path d="M59,175 C64,180.2 83,180.2 89,175 Z" fill="#f4f2ee"/>
<path d="M62,175 C66,178.2 81,178.2 86,175 Z" fill="#8f8a86"/>
<path d="M71.2,184.3 L78.2,184.3 L78.2,186 L77,186.6 L77,188.2 L78.2,188.8 L78.2,190.4 L71.2,190.4 L71.2,188.8 L72.4,188.2 L72.4,186.6 L71.2,186 Z" fill="#1a1410"/>
<rect x="70.6" y="186.5" width="1.3" height="1.8" fill="#e8d840"/>
<rect x="77.6" y="186.5" width="1.3" height="1.8" fill="#e8d840"/>
</g>
<defs><linearGradient id="gd1" x1="0" y1="0" x2="0" y2="1"><stop offset="0" stop-color="#c4e6f5"/><stop offset="0.35" stop-color="#b0ddf2"/><stop offset="1" stop-color="#a4d4ed"/></linearGradient></defs>
<clipPath id="cp5"><rect x="395.0" y="167.5" width="49.50" height="29.90"/></clipPath>
<g clip-path="url(#cp5)">
<rect x="395.0" y="167.5" width="49.50" height="29.90" fill="url(#gd1)"/>
<path d="M425,172 L444.5,171 L444.5,174 L425,174 Z" fill="#e2f3fa" opacity="0.8"/>
<path d="M395,180 C397,176 402,174 408,174.5 C412,175 415,176.5 419,177.3 L440,177.8 C441.5,178.5 441.5,181.5 440,182.2 L424,183 C419,183.6 415,183.8 412,184.5 C416,186.5 421,187 430,187.5 C432,189 428,191 420,192 C414,194 405,196.5 395,197.4 Z" fill="#7cc2ea"/>
<path d="M397,181 C399,177.5 404,176.5 409,177 C407,181 406,186 407,192 C403,193 399,192.5 397.5,190 Z" fill="#a4d6f3" opacity="0.85"/>
<path d="M395,190 C398,194 403,196 409,196.4 C415,196 420,194 424,191.5 L425,193 C420,196.5 414,197.4 408,197.4 L395,197.4 Z" fill="#2f80c8"/>
<path d="M412,184.2 L428,184.8 C425,186.2 420,186.8 415,186.6 Z" fill="#173f7a"/>
<path d="M414,186.6 C420,187 427,187.3 433,187.5 C432,189.5 427,190.5 420,191 Z" fill="#5aa8de"/>
<path d="M419.5,177.2 L439,177.6 C440.8,178.2 440.8,181.2 439,181.8 L419.5,181.7 Z" fill="#b3aa2e"/>
<path d="M419.5,180.2 L439.5,180.6 C439.3,181.3 439.1,181.7 439,181.8 L419.5,181.7 Z" fill="#7e8a25"/>
<ellipse cx="428.5" cy="179.3" rx="3.8" ry="1.5" fill="#3e3322"/>
</g>
<defs><linearGradient id="gd2" x1="0" y1="0" x2="0" y2="1"><stop offset="0" stop-color="#a3d5ee"/><stop offset="0.6" stop-color="#b4ddf1"/><stop offset="1" stop-color="#a9d7ee"/></linearGradient></defs>
<clipPath id="cp6"><rect x="456.2" y="179.6" width="42.80" height="29.70"/></clipPath>
<g clip-path="url(#cp6)">
<rect x="456.2" y="179.6" width="42.80" height="29.70" fill="url(#gd2)"/>
<path d="M489,193 L499,191 L499,195.5 Z" fill="#e8f5fb"/>
<path d="M456,195 C460,190 467,186.5 474,186.5 C481,187 487,191 489,197 C489.5,203 485,206.5 477,207.5 L456,208 Z" fill="#6db6e8"/>
<path d="M460,193 C465,189 471,188 476,189.5 C472,191 466,194 462,199 C460,198 459.5,195.5 460,193 Z" fill="#a5d6f5" opacity="0.9"/>
<path d="M456,202 C462,206 470,207.5 480,206.5 L481,209.5 L456,209.5 Z" fill="#2f82c8"/>
<ellipse cx="480.5" cy="197.4" rx="5" ry="2.8" fill="#173a78"/>
<path d="M482,192 C483,188.5 487,187.5 489.5,189.5 C491.5,192 491.5,196.5 489.5,199 C487.5,200.5 484.5,200 483,198 Z" fill="#a0a830"/>
<path d="M483,196 C485,198.5 488,199.5 490,198 C489,200.3 486,200.8 483.5,199 Z" fill="#557a28"/>
</g>
<defs><linearGradient id="ge" x1="0" y1="0" x2="1" y2="0"><stop offset="0" stop-color="#5cbbe4"/><stop offset="0.6" stop-color="#6ac4ea"/><stop offset="1" stop-color="#98d6f0"/></linearGradient></defs>
<clipPath id="cp7"><rect x="55.3" y="323.8" width="39.30" height="31.70"/></clipPath>
<g clip-path="url(#cp7)">
<rect x="55.3" y="323.8" width="39.30" height="31.70" fill="url(#ge)"/>
<rect x="55" y="351.5" width="40" height="4" fill="#8dd0ee"/>
<path d="M55,340 C58,339.5 61,339.5 63.5,339.8 L63.5,351.2 L55,351.4 Z" fill="#f4cfae"/>
<path d="M63,339.5 L66,338.5 L72.5,337.5 L73,351 L63,351.3 Z" fill="#6f9c3e"/>
<path d="M66,339 L70,338 L71,343 L67,344 Z" fill="#3d5a28" opacity="0.7"/>
<path d="M72,350.5 C71.5,345 72,338 73.5,333 C75,329.5 77.5,327.5 79.5,326.8 C81,325.5 83.5,325 85,326 C86.5,327.5 87,329.5 87,331 C88.5,334 89.2,337.5 89,341 C88.8,345 87.5,348.5 84.5,350.2 C80,351.3 76,351.2 72,350.5 Z" fill="#58a5de"/>
<path d="M80,329 C83,328 86,330 87.5,334 C88.5,338 88,342 86.5,344 C85,340 83,335 80,331 Z" fill="#93cdf2" opacity="0.8"/>
<path d="M74,337 C76,335 79,335 81,338 C80.5,341 79,344 76,345 C75,343 74,340 74,337 Z" fill="#2a62ad" opacity="0.7"/>
<path d="M77,331 C79,330.5 81,331.5 82,333 M77.5,334.5 C79.5,334 81.5,335 82.5,336.5" stroke="#3a7cc4" stroke-width="0.7" fill="none"/>
<ellipse cx="81.5" cy="326.4" rx="3" ry="1.5" fill="#2f70b8"/>
<path d="M55,350.6 L78,350.3 L78,351.6 L55,351.9 Z" fill="#2a5a88" opacity="0.7"/>
</g>
<defs><linearGradient id="gf1" x1="0" y1="0" x2="0" y2="1"><stop offset="0" stop-color="#2a88cc"/><stop offset="0.55" stop-color="#3292d3"/><stop offset="0.75" stop-color="#3e9cd8"/><stop offset="1" stop-color="#5ab0e2"/></linearGradient></defs>
<clipPath id="cp8"><rect x="216.1" y="318.9" width="58.40" height="29.70"/></clipPath>
<g clip-path="url(#cp8)">
<rect x="216.1" y="318.9" width="58.40" height="29.70" fill="url(#gf1)"/>
<path d="M216,331.2 C222,330.6 230,332.4 240,333.8 C250,335 257,335.4 262.5,334.6 C265.5,333.2 269.5,333.3 272.5,334.8 C274.5,337 274.3,341 272,342.6 C268,343.6 264.5,342.6 260.5,342.2 C250,342.6 238,343.2 228,344.3 C222,344.8 218.5,344.6 216,344.6 Z" fill="#e6dfd2"/>
<path d="M216,341.5 C224,341.5 236,341 250,340.5 C256,340.3 260,340.5 262,341.5 L260.5,342.2 C250,342.6 238,343.2 228,344.3 C222,344.8 218.5,344.6 216,344.6 Z" fill="#cfc6b6" opacity="0.8"/>
<path d="M224,344.2 C229,343.4 236,343.1 241,343.2 L239,345.3 L227,345.8 Z" fill="#1d4a78" opacity="0.75"/>
<ellipse cx="269.5" cy="337.6" rx="2.2" ry="1.3" fill="#6a3434"/>
</g>
<defs><linearGradient id="gf2" x1="0" y1="0" x2="1" y2="0"><stop offset="0" stop-color="#2a88cc"/><stop offset="0.6" stop-color="#3393d3"/><stop offset="1" stop-color="#5ab6e8"/></linearGradient></defs>
<clipPath id="cp9"><rect x="288.9" y="330.5" width="40.20" height="30.50"/></clipPath>
<g clip-path="url(#cp9)">
<rect x="288.9" y="330.5" width="40.20" height="30.50" fill="url(#gf2)"/>
<rect x="288.9" y="355.5" width="41" height="6" fill="#4aa6de" opacity="0.7"/>
<path d="M289,344.4 C296,344.2 304,344.6 310,345.3 C310.5,340 311.5,335 313,330 L323,330 C323,336 322.6,342 322.3,347 C322,352 319.5,355.4 314,355.7 L289,356 Z" fill="#d8d1c3"/>
<path d="M289,352.5 C298,352.8 306,353.2 312,353.3 C315,353.2 317.5,352.5 319,351.5 C318,354.5 316,355.6 313,355.7 L289,356 Z" fill="#9d998c" opacity="0.7"/>
<path d="M317,346.5 C319,346.8 321,347.5 322,348.5 C321.5,351.5 320,353.5 318,354.2 L316.5,353 Z" fill="#b8b040"/>
</g>
<rect x="38.65" y="17.40" width="145.75" height="117.40" fill="none" stroke="#3a3a3a" stroke-width="1.25"/>
<line x1="38.65" y1="134.80" x2="38.65" y2="137.00" stroke="#3a3a3a" stroke-width="0.9"/>
<text x="38.65" y="144.20" font-size="6.7" text-anchor="middle" fill="#222">0</text>
<line x1="71.04" y1="134.80" x2="71.04" y2="137.00" stroke="#3a3a3a" stroke-width="0.9"/>
<text x="71.04" y="144.20" font-size="6.7" text-anchor="middle" fill="#222">20</text>
<line x1="103.43" y1="134.80" x2="103.43" y2="137.00" stroke="#3a3a3a" stroke-width="0.9"/>
<text x="103.43" y="144.20" font-size="6.7" text-anchor="middle" fill="#222">40</text>
<line x1="135.82" y1="134.80" x2="135.82" y2="137.00" stroke="#3a3a3a" stroke-width="0.9"/>
<text x="135.82" y="144.20" font-size="6.7" text-anchor="middle" fill="#222">60</text>
<line x1="168.21" y1="134.80" x2="168.21" y2="137.00" stroke="#3a3a3a" stroke-width="0.9"/>
<text x="168.21" y="144.20" font-size="6.7" text-anchor="middle" fill="#222">80</text>
<line x1="54.84" y1="134.80" x2="54.84" y2="136.10" stroke="#3a3a3a" stroke-width="0.8"/>
<line x1="87.23" y1="134.80" x2="87.23" y2="136.10" stroke="#3a3a3a" stroke-width="0.8"/>
<line x1="119.62" y1="134.80" x2="119.62" y2="136.10" stroke="#3a3a3a" stroke-width="0.8"/>
<line x1="152.01" y1="134.80" x2="152.01" y2="136.10" stroke="#3a3a3a" stroke-width="0.8"/>
<line x1="184.40" y1="134.80" x2="184.40" y2="136.10" stroke="#3a3a3a" stroke-width="0.8"/>
<line x1="36.45" y1="134.80" x2="38.65" y2="134.80" stroke="#3a3a3a" stroke-width="0.9"/>
<text x="34.55" y="136.80" font-size="6.7" text-anchor="end" fill="#222">0.6</text>
<line x1="36.45" y1="111.32" x2="38.65" y2="111.32" stroke="#3a3a3a" stroke-width="0.9"/>
<text x="34.55" y="113.32" font-size="6.7" text-anchor="end" fill="#222">0.8</text>
<line x1="36.45" y1="87.84" x2="38.65" y2="87.84" stroke="#3a3a3a" stroke-width="0.9"/>
<text x="34.55" y="89.84" font-size="6.7" text-anchor="end" fill="#222">1.0</text>
<line x1="36.45" y1="64.36" x2="38.65" y2="64.36" stroke="#3a3a3a" stroke-width="0.9"/>
<text x="34.55" y="66.36" font-size="6.7" text-anchor="end" fill="#222">1.2</text>
<line x1="36.45" y1="40.88" x2="38.65" y2="40.88" stroke="#3a3a3a" stroke-width="0.9"/>
<text x="34.55" y="42.88" font-size="6.7" text-anchor="end" fill="#222">1.4</text>
<line x1="36.45" y1="17.40" x2="38.65" y2="17.40" stroke="#3a3a3a" stroke-width="0.9"/>
<text x="34.55" y="19.40" font-size="6.7" text-anchor="end" fill="#222">1.6</text>
<text x="19.95" y="76.10" font-size="7.8" text-anchor="middle" fill="#111" transform="rotate(-90 19.95 76.10)">R/R<tspan font-size="5.2" dy="1.9">0</tspan></text>
<text x="111.53" y="152.00" font-size="7.6" text-anchor="middle" fill="#111">Time (s)</text>
<rect x="392.40" y="14.90" width="145.90" height="117.40" fill="none" stroke="#3a3a3a" stroke-width="1.25"/>
<line x1="392.40" y1="132.30" x2="392.40" y2="134.50" stroke="#3a3a3a" stroke-width="0.9"/>
<text x="392.40" y="141.70" font-size="6.7" text-anchor="middle" fill="#222">0</text>
<line x1="416.72" y1="132.30" x2="416.72" y2="134.50" stroke="#3a3a3a" stroke-width="0.9"/>
<text x="416.72" y="141.70" font-size="6.7" text-anchor="middle" fill="#222">10</text>
<line x1="441.03" y1="132.30" x2="441.03" y2="134.50" stroke="#3a3a3a" stroke-width="0.9"/>
<text x="441.03" y="141.70" font-size="6.7" text-anchor="middle" fill="#222">20</text>
<line x1="465.35" y1="132.30" x2="465.35" y2="134.50" stroke="#3a3a3a" stroke-width="0.9"/>
<text x="465.35" y="141.70" font-size="6.7" text-anchor="middle" fill="#222">30</text>
<line x1="489.67" y1="132.30" x2="489.67" y2="134.50" stroke="#3a3a3a" stroke-width="0.9"/>
<text x="489.67" y="141.70" font-size="6.7" text-anchor="middle" fill="#222">40</text>
<line x1="513.98" y1="132.30" x2="513.98" y2="134.50" stroke="#3a3a3a" stroke-width="0.9"/>
<text x="513.98" y="141.70" font-size="6.7" text-anchor="middle" fill="#222">50</text>
<line x1="538.30" y1="132.30" x2="538.30" y2="134.50" stroke="#3a3a3a" stroke-width="0.9"/>
<text x="538.30" y="141.70" font-size="6.7" text-anchor="middle" fill="#222">60</text>
<line x1="404.56" y1="132.30" x2="404.56" y2="133.60" stroke="#3a3a3a" stroke-width="0.8"/>
<line x1="428.88" y1="132.30" x2="428.88" y2="133.60" stroke="#3a3a3a" stroke-width="0.8"/>
<line x1="453.19" y1="132.30" x2="453.19" y2="133.60" stroke="#3a3a3a" stroke-width="0.8"/>
<line x1="477.51" y1="132.30" x2="477.51" y2="133.60" stroke="#3a3a3a" stroke-width="0.8"/>
<line x1="501.82" y1="132.30" x2="501.82" y2="133.60" stroke="#3a3a3a" stroke-width="0.8"/>
<line x1="526.14" y1="132.30" x2="526.14" y2="133.60" stroke="#3a3a3a" stroke-width="0.8"/>
<line x1="390.20" y1="132.30" x2="392.40" y2="132.30" stroke="#3a3a3a" stroke-width="0.9"/>
<text x="388.30" y="134.30" font-size="6.7" text-anchor="end" fill="#222">0.4</text>
<line x1="390.20" y1="98.76" x2="392.40" y2="98.76" stroke="#3a3a3a" stroke-width="0.9"/>
<text x="388.30" y="100.76" font-size="6.7" text-anchor="end" fill="#222">0.8</text>
<line x1="390.20" y1="65.21" x2="392.40" y2="65.21" stroke="#3a3a3a" stroke-width="0.9"/>
<text x="388.30" y="67.21" font-size="6.7" text-anchor="end" fill="#222">1.2</text>
<line x1="390.20" y1="31.67" x2="392.40" y2="31.67" stroke="#3a3a3a" stroke-width="0.9"/>
<text x="388.30" y="33.67" font-size="6.7" text-anchor="end" fill="#222">1.6</text>
<line x1="391.10" y1="115.53" x2="392.40" y2="115.53" stroke="#3a3a3a" stroke-width="0.8"/>
<line x1="391.10" y1="81.99" x2="392.40" y2="81.99" stroke="#3a3a3a" stroke-width="0.8"/>
<line x1="391.10" y1="48.44" x2="392.40" y2="48.44" stroke="#3a3a3a" stroke-width="0.8"/>
<text x="373.70" y="73.60" font-size="7.8" text-anchor="middle" fill="#111" transform="rotate(-90 373.70 73.60)">R/R<tspan font-size="5.2" dy="1.9">0</tspan></text>
<text x="465.35" y="149.90" font-size="7.6" text-anchor="middle" fill="#111">Time (s)</text>
<rect x="38.65" y="165.10" width="145.65" height="117.20" fill="none" stroke="#3a3a3a" stroke-width="1.25"/>
<line x1="38.65" y1="282.30" x2="38.65" y2="284.50" stroke="#3a3a3a" stroke-width="0.9"/>
<text x="38.65" y="291.70" font-size="6.7" text-anchor="middle" fill="#222">0</text>
<line x1="67.78" y1="282.30" x2="67.78" y2="284.50" stroke="#3a3a3a" stroke-width="0.9"/>
<text x="67.78" y="291.70" font-size="6.7" text-anchor="middle" fill="#222">10</text>
<line x1="96.91" y1="282.30" x2="96.91" y2="284.50" stroke="#3a3a3a" stroke-width="0.9"/>
<text x="96.91" y="291.70" font-size="6.7" text-anchor="middle" fill="#222">20</text>
<line x1="126.04" y1="282.30" x2="126.04" y2="284.50" stroke="#3a3a3a" stroke-width="0.9"/>
<text x="126.04" y="291.70" font-size="6.7" text-anchor="middle" fill="#222">30</text>
<line x1="155.17" y1="282.30" x2="155.17" y2="284.50" stroke="#3a3a3a" stroke-width="0.9"/>
<text x="155.17" y="291.70" font-size="6.7" text-anchor="middle" fill="#222">40</text>
<line x1="184.30" y1="282.30" x2="184.30" y2="284.50" stroke="#3a3a3a" stroke-width="0.9"/>
<text x="184.30" y="291.70" font-size="6.7" text-anchor="middle" fill="#222">50</text>
<line x1="53.22" y1="282.30" x2="53.22" y2="283.60" stroke="#3a3a3a" stroke-width="0.8"/>
<line x1="82.34" y1="282.30" x2="82.34" y2="283.60" stroke="#3a3a3a" stroke-width="0.8"/>
<line x1="111.47" y1="282.30" x2="111.47" y2="283.60" stroke="#3a3a3a" stroke-width="0.8"/>
<line x1="140.60" y1="282.30" x2="140.60" y2="283.60" stroke="#3a3a3a" stroke-width="0.8"/>
<line x1="169.74" y1="282.30" x2="169.74" y2="283.60" stroke="#3a3a3a" stroke-width="0.8"/>
<line x1="36.45" y1="282.30" x2="38.65" y2="282.30" stroke="#3a3a3a" stroke-width="0.9"/>
<text x="34.55" y="284.30" font-size="6.7" text-anchor="end" fill="#222">0.4</text>
<line x1="36.45" y1="262.77" x2="38.65" y2="262.77" stroke="#3a3a3a" stroke-width="0.9"/>
<text x="34.55" y="264.77" font-size="6.7" text-anchor="end" fill="#222">0.6</text>
<line x1="36.45" y1="243.23" x2="38.65" y2="243.23" stroke="#3a3a3a" stroke-width="0.9"/>
<text x="34.55" y="245.23" font-size="6.7" text-anchor="end" fill="#222">0.8</text>
<line x1="36.45" y1="223.70" x2="38.65" y2="223.70" stroke="#3a3a3a" stroke-width="0.9"/>
<text x="34.55" y="225.70" font-size="6.7" text-anchor="end" fill="#222">1.0</text>
<line x1="36.45" y1="204.17" x2="38.65" y2="204.17" stroke="#3a3a3a" stroke-width="0.9"/>
<text x="34.55" y="206.17" font-size="6.7" text-anchor="end" fill="#222">1.2</text>
<line x1="36.45" y1="184.63" x2="38.65" y2="184.63" stroke="#3a3a3a" stroke-width="0.9"/>
<text x="34.55" y="186.63" font-size="6.7" text-anchor="end" fill="#222">1.4</text>
<line x1="36.45" y1="165.10" x2="38.65" y2="165.10" stroke="#3a3a3a" stroke-width="0.9"/>
<text x="34.55" y="167.10" font-size="6.7" text-anchor="end" fill="#222">1.6</text>
<text x="19.95" y="223.70" font-size="7.8" text-anchor="middle" fill="#111" transform="rotate(-90 19.95 223.70)">R/R<tspan font-size="5.2" dy="1.9">0</tspan></text>
<text x="111.48" y="300.60" font-size="7.6" text-anchor="middle" fill="#111">Time (s)</text>
<rect x="392.40" y="165.20" width="145.70" height="117.10" fill="none" stroke="#3a3a3a" stroke-width="1.25"/>
<line x1="392.40" y1="282.30" x2="392.40" y2="284.50" stroke="#3a3a3a" stroke-width="0.9"/>
<text x="392.40" y="291.70" font-size="6.7" text-anchor="middle" fill="#222">0</text>
<line x1="426.68" y1="282.30" x2="426.68" y2="284.50" stroke="#3a3a3a" stroke-width="0.9"/>
<text x="426.68" y="291.70" font-size="6.7" text-anchor="middle" fill="#222">20</text>
<line x1="460.96" y1="282.30" x2="460.96" y2="284.50" stroke="#3a3a3a" stroke-width="0.9"/>
<text x="460.96" y="291.70" font-size="6.7" text-anchor="middle" fill="#222">40</text>
<line x1="495.25" y1="282.30" x2="495.25" y2="284.50" stroke="#3a3a3a" stroke-width="0.9"/>
<text x="495.25" y="291.70" font-size="6.7" text-anchor="middle" fill="#222">60</text>
<line x1="529.53" y1="282.30" x2="529.53" y2="284.50" stroke="#3a3a3a" stroke-width="0.9"/>
<text x="529.53" y="291.70" font-size="6.7" text-anchor="middle" fill="#222">80</text>
<line x1="409.54" y1="282.30" x2="409.54" y2="283.60" stroke="#3a3a3a" stroke-width="0.8"/>
<line x1="443.82" y1="282.30" x2="443.82" y2="283.60" stroke="#3a3a3a" stroke-width="0.8"/>
<line x1="478.11" y1="282.30" x2="478.11" y2="283.60" stroke="#3a3a3a" stroke-width="0.8"/>
<line x1="512.39" y1="282.30" x2="512.39" y2="283.60" stroke="#3a3a3a" stroke-width="0.8"/>
<line x1="390.20" y1="282.30" x2="392.40" y2="282.30" stroke="#3a3a3a" stroke-width="0.9"/>
<text x="388.30" y="284.30" font-size="6.7" text-anchor="end" fill="#222">0.0</text>
<line x1="390.20" y1="258.88" x2="392.40" y2="258.88" stroke="#3a3a3a" stroke-width="0.9"/>
<text x="388.30" y="260.88" font-size="6.7" text-anchor="end" fill="#222">0.4</text>
<line x1="390.20" y1="235.46" x2="392.40" y2="235.46" stroke="#3a3a3a" stroke-width="0.9"/>
<text x="388.30" y="237.46" font-size="6.7" text-anchor="end" fill="#222">0.8</text>
<line x1="390.20" y1="212.04" x2="392.40" y2="212.04" stroke="#3a3a3a" stroke-width="0.9"/>
<text x="388.30" y="214.04" font-size="6.7" text-anchor="end" fill="#222">1.2</text>
<line x1="390.20" y1="188.62" x2="392.40" y2="188.62" stroke="#3a3a3a" stroke-width="0.9"/>
<text x="388.30" y="190.62" font-size="6.7" text-anchor="end" fill="#222">1.6</text>
<line x1="390.20" y1="165.20" x2="392.40" y2="165.20" stroke="#3a3a3a" stroke-width="0.9"/>
<text x="388.30" y="167.20" font-size="6.7" text-anchor="end" fill="#222">2.0</text>
<line x1="391.10" y1="270.59" x2="392.40" y2="270.59" stroke="#3a3a3a" stroke-width="0.8"/>
<line x1="391.10" y1="247.17" x2="392.40" y2="247.17" stroke="#3a3a3a" stroke-width="0.8"/>
<line x1="391.10" y1="223.75" x2="392.40" y2="223.75" stroke="#3a3a3a" stroke-width="0.8"/>
<line x1="391.10" y1="200.33" x2="392.40" y2="200.33" stroke="#3a3a3a" stroke-width="0.8"/>
<line x1="391.10" y1="176.91" x2="392.40" y2="176.91" stroke="#3a3a3a" stroke-width="0.8"/>
<text x="373.70" y="223.75" font-size="7.8" text-anchor="middle" fill="#111" transform="rotate(-90 373.70 223.75)">R/R<tspan font-size="5.2" dy="1.9">0</tspan></text>
<text x="465.25" y="300.60" font-size="7.6" text-anchor="middle" fill="#111">Time (s)</text>
<rect x="38.65" y="316.40" width="145.65" height="117.50" fill="none" stroke="#3a3a3a" stroke-width="1.25"/>
<line x1="38.65" y1="433.90" x2="38.65" y2="436.10" stroke="#3a3a3a" stroke-width="0.9"/>
<text x="38.65" y="443.30" font-size="6.7" text-anchor="middle" fill="#222">0</text>
<line x1="61.41" y1="433.90" x2="61.41" y2="436.10" stroke="#3a3a3a" stroke-width="0.9"/>
<text x="61.41" y="443.30" font-size="6.7" text-anchor="middle" fill="#222">5</text>
<line x1="84.17" y1="433.90" x2="84.17" y2="436.10" stroke="#3a3a3a" stroke-width="0.9"/>
<text x="84.17" y="443.30" font-size="6.7" text-anchor="middle" fill="#222">10</text>
<line x1="106.92" y1="433.90" x2="106.92" y2="436.10" stroke="#3a3a3a" stroke-width="0.9"/>
<text x="106.92" y="443.30" font-size="6.7" text-anchor="middle" fill="#222">15</text>
<line x1="129.68" y1="433.90" x2="129.68" y2="436.10" stroke="#3a3a3a" stroke-width="0.9"/>
<text x="129.68" y="443.30" font-size="6.7" text-anchor="middle" fill="#222">20</text>
<line x1="152.44" y1="433.90" x2="152.44" y2="436.10" stroke="#3a3a3a" stroke-width="0.9"/>
<text x="152.44" y="443.30" font-size="6.7" text-anchor="middle" fill="#222">25</text>
<line x1="175.20" y1="433.90" x2="175.20" y2="436.10" stroke="#3a3a3a" stroke-width="0.9"/>
<text x="175.20" y="443.30" font-size="6.7" text-anchor="middle" fill="#222">30</text>
<line x1="50.03" y1="433.90" x2="50.03" y2="435.20" stroke="#3a3a3a" stroke-width="0.8"/>
<line x1="72.79" y1="433.90" x2="72.79" y2="435.20" stroke="#3a3a3a" stroke-width="0.8"/>
<line x1="95.54" y1="433.90" x2="95.54" y2="435.20" stroke="#3a3a3a" stroke-width="0.8"/>
<line x1="118.30" y1="433.90" x2="118.30" y2="435.20" stroke="#3a3a3a" stroke-width="0.8"/>
<line x1="141.06" y1="433.90" x2="141.06" y2="435.20" stroke="#3a3a3a" stroke-width="0.8"/>
<line x1="163.82" y1="433.90" x2="163.82" y2="435.20" stroke="#3a3a3a" stroke-width="0.8"/>
<line x1="36.45" y1="420.84" x2="38.65" y2="420.84" stroke="#3a3a3a" stroke-width="0.9"/>
<text x="34.55" y="422.84" font-size="6.7" text-anchor="end" fill="#222">0.4</text>
<line x1="36.45" y1="394.73" x2="38.65" y2="394.73" stroke="#3a3a3a" stroke-width="0.9"/>
<text x="34.55" y="396.73" font-size="6.7" text-anchor="end" fill="#222">0.8</text>
<line x1="36.45" y1="368.62" x2="38.65" y2="368.62" stroke="#3a3a3a" stroke-width="0.9"/>
<text x="34.55" y="370.62" font-size="6.7" text-anchor="end" fill="#222">1.2</text>
<line x1="36.45" y1="342.51" x2="38.65" y2="342.51" stroke="#3a3a3a" stroke-width="0.9"/>
<text x="34.55" y="344.51" font-size="6.7" text-anchor="end" fill="#222">1.6</text>
<line x1="36.45" y1="316.40" x2="38.65" y2="316.40" stroke="#3a3a3a" stroke-width="0.9"/>
<text x="34.55" y="318.40" font-size="6.7" text-anchor="end" fill="#222">2.0</text>
<line x1="37.35" y1="407.79" x2="38.65" y2="407.79" stroke="#3a3a3a" stroke-width="0.8"/>
<line x1="37.35" y1="381.68" x2="38.65" y2="381.68" stroke="#3a3a3a" stroke-width="0.8"/>
<line x1="37.35" y1="355.57" x2="38.65" y2="355.57" stroke="#3a3a3a" stroke-width="0.8"/>
<line x1="37.35" y1="329.46" x2="38.65" y2="329.46" stroke="#3a3a3a" stroke-width="0.8"/>
<text x="19.95" y="375.15" font-size="7.8" text-anchor="middle" fill="#111" transform="rotate(-90 19.95 375.15)">R/R<tspan font-size="5.2" dy="1.9">0</tspan></text>
<text x="111.48" y="451.50" font-size="7.6" text-anchor="middle" fill="#111">Time (s)</text>
<rect x="213.60" y="316.40" width="145.70" height="117.60" fill="none" stroke="#3a3a3a" stroke-width="1.25"/>
<line x1="213.60" y1="434.00" x2="213.60" y2="436.20" stroke="#3a3a3a" stroke-width="0.9"/>
<text x="213.60" y="443.40" font-size="6.7" text-anchor="middle" fill="#222">0</text>
<line x1="234.41" y1="434.00" x2="234.41" y2="436.20" stroke="#3a3a3a" stroke-width="0.9"/>
<text x="234.41" y="443.40" font-size="6.7" text-anchor="middle" fill="#222">4</text>
<line x1="255.23" y1="434.00" x2="255.23" y2="436.20" stroke="#3a3a3a" stroke-width="0.9"/>
<text x="255.23" y="443.40" font-size="6.7" text-anchor="middle" fill="#222">8</text>
<line x1="276.04" y1="434.00" x2="276.04" y2="436.20" stroke="#3a3a3a" stroke-width="0.9"/>
<text x="276.04" y="443.40" font-size="6.7" text-anchor="middle" fill="#222">12</text>
<line x1="296.86" y1="434.00" x2="296.86" y2="436.20" stroke="#3a3a3a" stroke-width="0.9"/>
<text x="296.86" y="443.40" font-size="6.7" text-anchor="middle" fill="#222">16</text>
<line x1="317.67" y1="434.00" x2="317.67" y2="436.20" stroke="#3a3a3a" stroke-width="0.9"/>
<text x="317.67" y="443.40" font-size="6.7" text-anchor="middle" fill="#222">20</text>
<line x1="338.49" y1="434.00" x2="338.49" y2="436.20" stroke="#3a3a3a" stroke-width="0.9"/>
<text x="338.49" y="443.40" font-size="6.7" text-anchor="middle" fill="#222">24</text>
<line x1="359.30" y1="434.00" x2="359.30" y2="436.20" stroke="#3a3a3a" stroke-width="0.9"/>
<text x="359.30" y="443.40" font-size="6.7" text-anchor="middle" fill="#222">28</text>
<line x1="224.01" y1="434.00" x2="224.01" y2="435.30" stroke="#3a3a3a" stroke-width="0.8"/>
<line x1="244.82" y1="434.00" x2="244.82" y2="435.30" stroke="#3a3a3a" stroke-width="0.8"/>
<line x1="265.64" y1="434.00" x2="265.64" y2="435.30" stroke="#3a3a3a" stroke-width="0.8"/>
<line x1="286.45" y1="434.00" x2="286.45" y2="435.30" stroke="#3a3a3a" stroke-width="0.8"/>
<line x1="307.26" y1="434.00" x2="307.26" y2="435.30" stroke="#3a3a3a" stroke-width="0.8"/>
<line x1="328.08" y1="434.00" x2="328.08" y2="435.30" stroke="#3a3a3a" stroke-width="0.8"/>
<line x1="348.89" y1="434.00" x2="348.89" y2="435.30" stroke="#3a3a3a" stroke-width="0.8"/>
<line x1="211.40" y1="417.20" x2="213.60" y2="417.20" stroke="#3a3a3a" stroke-width="0.9"/>
<text x="209.50" y="419.20" font-size="6.7" text-anchor="end" fill="#222">0.5</text>
<line x1="211.40" y1="383.60" x2="213.60" y2="383.60" stroke="#3a3a3a" stroke-width="0.9"/>
<text x="209.50" y="385.60" font-size="6.7" text-anchor="end" fill="#222">1.0</text>
<line x1="211.40" y1="350.00" x2="213.60" y2="350.00" stroke="#3a3a3a" stroke-width="0.9"/>
<text x="209.50" y="352.00" font-size="6.7" text-anchor="end" fill="#222">1.5</text>
<line x1="211.40" y1="316.40" x2="213.60" y2="316.40" stroke="#3a3a3a" stroke-width="0.9"/>
<text x="209.50" y="318.40" font-size="6.7" text-anchor="end" fill="#222">2.0</text>
<line x1="212.30" y1="400.40" x2="213.60" y2="400.40" stroke="#3a3a3a" stroke-width="0.8"/>
<line x1="212.30" y1="366.80" x2="213.60" y2="366.80" stroke="#3a3a3a" stroke-width="0.8"/>
<line x1="212.30" y1="333.20" x2="213.60" y2="333.20" stroke="#3a3a3a" stroke-width="0.8"/>
<text x="194.90" y="375.20" font-size="7.8" text-anchor="middle" fill="#111" transform="rotate(-90 194.90 375.20)">R/R<tspan font-size="5.2" dy="1.9">0</tspan></text>
<text x="286.45" y="452.80" font-size="7.6" text-anchor="middle" fill="#111">Time (s)</text>
<text x="158.00" y="29.30" font-size="7.75" text-anchor="start" fill="#111">Press</text>
<text x="518.30" y="28.30" font-size="7.75" text-anchor="start" fill="#111">Nod</text>
<text x="150.00" y="176.20" font-size="7.75" text-anchor="start" fill="#111">Swallow</text>
<text x="494.80" y="176.60" font-size="7.75" text-anchor="start" fill="#111">Bend finger</text>
<text x="142.00" y="327.80" font-size="7.75" text-anchor="start" fill="#111">Bend wrist</text>
<text x="313.50" y="326.80" font-size="7.75" text-anchor="start" fill="#111">Bend elbow</text>
<text x="9.40" y="25.60" font-size="20" fill="#000" style="stroke:#000;stroke-width:0.3px">a</text>
<text x="364.40" y="23.60" font-size="20" fill="#000" style="stroke:#000;stroke-width:0.3px">b</text>
<text x="9.10" y="171.30" font-size="20" fill="#000" style="stroke:#000;stroke-width:0.3px">c</text>
<text x="364.40" y="171.40" font-size="20" fill="#000" style="stroke:#000;stroke-width:0.3px">d</text>
<text x="8.90" y="323.40" font-size="20" fill="#000" style="stroke:#000;stroke-width:0.3px">e</text>
<text x="189.10" y="323.60" font-size="20" fill="#000" style="stroke:#000;stroke-width:0.3px">f</text>
<text x="364.40" y="323.50" font-size="20" fill="#000" style="stroke:#000;stroke-width:0.3px">g</text>
<path d="M269.40,20.20 C271.72,20.10 274.37,19.93 276.30,20.80 C278.23,21.67 279.83,23.47 281.00,25.40 C282.17,27.33 283.02,30.27 283.30,32.40 C283.58,34.53 283.00,36.47 282.70,38.20 C282.40,39.93 281.70,41.07 281.50,42.80 C281.30,44.53 281.40,46.85 281.50,48.60 C281.60,50.35 281.62,51.93 282.10,53.30 C282.58,54.67 283.43,55.73 284.40,56.80 C285.37,57.87 286.88,58.92 287.90,59.70 C288.92,60.48 289.52,60.83 290.50,61.50 C291.48,62.17 291.77,63.08 293.80,63.70 C295.83,64.32 300.35,64.47 302.70,65.20 C305.05,65.93 306.43,66.75 307.90,68.10 C309.37,69.45 310.52,71.45 311.50,73.30 C312.48,75.15 313.18,76.50 313.80,79.20 C314.42,81.90 314.83,86.07 315.20,89.50 C315.57,92.93 315.97,97.35 316.00,99.80 C316.03,102.25 315.40,102.48 315.40,104.20 C315.40,105.92 315.85,107.63 316.00,110.10 C316.15,112.57 315.97,115.80 316.30,119.00 C316.63,122.20 317.75,126.08 318.00,129.30 C318.25,132.52 317.83,134.72 317.80,138.30 C317.77,141.88 317.65,146.92 317.80,150.80 C317.95,154.68 318.47,159.07 318.70,161.60 C318.93,164.13 318.90,164.83 319.20,166.00 C319.50,167.17 319.77,167.50 320.50,168.60 C321.23,169.70 322.52,171.30 323.60,172.60 C324.68,173.90 326.03,175.37 327.00,176.40 C327.97,177.43 329.08,178.15 329.40,178.80 C329.72,179.45 329.38,180.10 328.90,180.30 C328.42,180.50 327.23,180.13 326.50,180.00 C325.77,179.87 324.78,178.67 324.50,179.50 C324.22,180.33 324.83,182.83 324.80,185.00 C324.77,187.17 324.63,191.17 324.30,192.50 C323.97,193.83 323.18,193.92 322.80,193.00 C322.42,192.08 322.37,186.73 322.00,187.00 C321.63,187.27 321.10,193.30 320.60,194.60 C320.10,195.90 319.40,195.90 319.00,194.80 C318.60,193.70 318.63,188.30 318.20,188.00 C317.77,187.70 316.97,192.17 316.40,193.00 C315.83,193.83 315.20,194.08 314.80,193.00 C314.40,191.92 314.40,187.03 314.00,186.50 C313.60,185.97 312.90,189.33 312.40,189.80 C311.90,190.27 311.27,190.27 311.00,189.30 C310.73,188.33 310.80,186.07 310.80,184.00 C310.80,181.93 311.07,179.07 311.00,176.90 C310.93,174.73 310.68,172.83 310.40,171.00 C310.12,169.17 309.57,167.47 309.30,165.90 C309.03,164.33 309.33,164.12 308.80,161.60 C308.27,159.08 307.00,154.08 306.10,150.80 C305.20,147.52 304.15,144.88 303.40,141.90 C302.65,138.92 302.03,135.88 301.60,132.90 C301.17,129.92 300.87,126.38 300.80,124.00 C300.73,121.62 301.38,120.07 301.20,118.60 C301.02,117.13 300.20,115.30 299.70,115.20 C299.20,115.10 298.65,116.83 298.20,118.00 C297.75,119.17 297.32,120.32 297.00,122.20 C296.68,124.08 296.12,126.62 296.30,129.30 C296.48,131.98 297.50,135.30 298.10,138.30 C298.70,141.30 299.32,144.02 299.90,147.30 C300.48,150.58 301.17,154.42 301.60,158.00 C302.03,161.58 302.35,165.13 302.50,168.80 C302.65,172.47 302.22,176.68 302.50,180.00 C302.78,183.32 303.80,185.78 304.20,188.70 C304.60,191.62 304.78,194.10 304.90,197.50 C305.02,200.90 304.65,206.20 304.90,209.10 C305.15,212.00 305.67,212.97 306.40,214.90 C307.13,216.83 308.45,218.27 309.30,220.70 C310.15,223.13 310.97,226.28 311.50,229.50 C312.03,232.72 312.33,237.15 312.50,240.00 C312.67,242.85 312.50,243.55 312.50,246.60 C312.50,249.65 312.25,254.42 312.50,258.30 C312.75,262.18 313.02,266.75 314.00,269.90 C314.98,273.05 317.18,275.27 318.40,277.20 C319.62,279.13 320.45,280.05 321.30,281.50 C322.15,282.95 323.02,284.43 323.50,285.90 C323.98,287.37 324.57,288.85 324.20,290.30 C323.83,291.75 322.52,294.00 321.30,294.60 C320.08,295.20 318.12,294.62 316.90,293.90 C315.68,293.18 315.22,292.12 314.00,290.30 C312.78,288.48 310.93,284.95 309.60,283.00 C308.27,281.05 306.85,279.82 306.00,278.60 C305.15,277.38 304.87,277.63 304.50,275.70 C304.13,273.77 304.28,269.90 303.80,267.00 C303.32,264.10 302.57,261.22 301.60,258.30 C300.63,255.38 299.05,252.22 298.00,249.50 C296.95,246.78 295.87,244.75 295.30,242.00 C294.73,239.25 294.82,235.82 294.60,233.00 C294.38,230.18 294.70,227.63 294.00,225.10 C293.30,222.57 291.58,219.98 290.40,217.80 C289.22,215.62 287.63,213.93 286.90,212.00 C286.17,210.07 286.40,208.13 286.00,206.20 C285.60,204.27 285.23,202.35 284.50,200.40 C283.77,198.45 282.68,196.68 281.60,194.50 C280.52,192.32 279.08,189.63 278.00,187.30 C276.92,184.97 275.83,181.55 275.10,180.50 C274.37,179.45 273.97,179.63 273.60,181.00 C273.23,182.37 273.02,185.95 272.90,188.70 C272.78,191.45 272.78,194.10 272.90,197.50 C273.02,200.90 273.40,205.23 273.60,209.10 C273.80,212.97 273.73,217.55 274.10,220.70 C274.47,223.85 275.27,225.57 275.80,228.00 C276.33,230.43 276.87,232.80 277.30,235.30 C277.73,237.80 278.22,240.13 278.40,243.00 C278.58,245.87 278.40,248.98 278.40,252.50 C278.40,256.02 278.17,260.23 278.40,264.10 C278.63,267.97 279.45,272.80 279.80,275.70 C280.15,278.60 280.50,279.55 280.50,281.50 C280.50,283.45 280.52,285.70 279.80,287.40 C279.08,289.10 277.77,290.50 276.20,291.70 C274.63,292.90 272.35,293.38 270.40,294.60 C268.45,295.82 266.20,298.27 264.50,299.00 C262.80,299.73 261.28,299.48 260.20,299.00 C259.12,298.52 258.37,297.32 258.00,296.10 C257.63,294.88 257.52,293.03 258.00,291.70 C258.48,290.37 259.57,289.55 260.90,288.10 C262.23,286.65 264.55,284.58 266.00,283.00 C267.45,281.42 269.00,280.78 269.60,278.60 C270.20,276.42 269.95,272.80 269.60,269.90 C269.25,267.00 268.35,264.10 267.50,261.20 C266.65,258.30 265.45,255.42 264.50,252.50 C263.55,249.58 262.35,246.62 261.80,243.70 C261.25,240.78 261.42,237.13 261.20,235.00 C260.98,232.87 260.85,232.80 260.50,230.90 C260.15,229.00 259.68,226.17 259.10,223.60 C258.52,221.03 257.25,217.68 257.00,215.50 C256.75,213.32 257.73,212.05 257.60,210.50 C257.47,208.95 257.05,208.37 256.20,206.20 C255.35,204.03 253.72,200.42 252.50,197.50 C251.28,194.58 250.05,191.45 248.90,188.70 C247.75,185.95 246.43,184.83 245.60,181.00 C244.77,177.17 244.18,170.63 243.90,165.70 C243.62,160.77 243.77,155.90 243.90,151.40 C244.03,146.90 244.30,142.40 244.70,138.70 C245.10,135.00 245.55,132.37 246.30,129.20 C247.05,126.03 248.87,121.80 249.20,119.70 C249.53,117.60 248.78,116.80 248.30,116.60 C247.82,116.40 246.90,117.45 246.30,118.50 C245.70,119.55 245.10,121.12 244.70,122.90 C244.30,124.68 244.57,127.08 243.90,129.20 C243.23,131.32 242.02,133.22 240.70,135.60 C239.38,137.98 237.83,140.60 236.00,143.50 C234.17,146.40 231.07,150.67 229.70,153.00 C228.33,155.33 228.45,156.17 227.80,157.50 C227.15,158.83 226.68,159.43 225.80,161.00 C224.92,162.57 223.30,165.15 222.50,166.90 C221.70,168.65 221.53,169.73 221.00,171.50 C220.47,173.27 219.67,175.58 219.30,177.50 C218.93,179.42 219.13,181.88 218.80,183.00 C218.47,184.12 217.77,184.70 217.30,184.20 C216.83,183.70 216.42,179.77 216.00,180.00 C215.58,180.23 215.30,184.68 214.80,185.60 C214.30,186.52 213.42,186.27 213.00,185.50 C212.58,184.73 212.57,180.78 212.30,181.00 C212.03,181.22 211.78,185.80 211.40,186.80 C211.02,187.80 210.37,187.97 210.00,187.00 C209.63,186.03 209.87,181.70 209.20,181.00 C208.53,180.30 206.78,182.63 206.00,182.80 C205.22,182.97 204.50,182.88 204.50,182.00 C204.50,181.12 205.37,179.25 206.00,177.50 C206.63,175.75 208.38,172.60 208.30,171.50 C208.22,170.40 206.33,171.15 205.50,170.90 C204.67,170.65 203.38,170.62 203.30,170.00 C203.22,169.38 203.95,168.28 205.00,167.20 C206.05,166.12 208.33,164.65 209.60,163.50 C210.87,162.35 211.53,161.78 212.60,160.30 C213.67,158.82 214.85,156.87 216.00,154.60 C217.15,152.33 218.30,149.60 219.50,146.70 C220.70,143.80 222.17,140.12 223.20,137.20 C224.23,134.28 224.67,131.90 225.70,129.20 C226.73,126.50 228.42,123.67 229.40,121.00 C230.38,118.33 230.80,115.77 231.60,113.20 C232.40,110.63 233.45,107.93 234.20,105.60 C234.95,103.27 235.47,100.90 236.10,99.20 C236.73,97.50 237.48,96.67 238.00,95.40 C238.52,94.13 239.10,93.28 239.20,91.60 C239.30,89.92 238.55,87.82 238.60,85.30 C238.65,82.78 238.97,78.92 239.50,76.50 C240.03,74.08 240.78,72.18 241.80,70.80 C242.82,69.42 243.70,69.00 245.60,68.20 C247.50,67.40 251.00,66.90 253.20,66.00 C255.40,65.10 257.57,64.13 258.80,62.80 C260.03,61.47 260.38,59.58 260.60,58.00 C260.82,56.42 260.38,54.67 260.10,53.30 C259.82,51.93 259.48,50.97 258.90,49.80 C258.32,48.63 257.37,47.65 256.60,46.30 C255.83,44.95 254.88,43.25 254.30,41.70 C253.72,40.15 253.20,38.75 253.10,37.00 C253.00,35.25 253.12,33.13 253.70,31.20 C254.28,29.27 255.15,27.03 256.60,25.40 C258.05,23.77 260.27,22.27 262.40,21.40 C264.53,20.53 267.08,20.30 269.40,20.20Z" fill="#79bfe1" stroke="#5d6f7a" stroke-width="0.55" stroke-linejoin="round"/>
<ellipse cx="262.0" cy="58.6" rx="1.6" ry="2.4" fill="#ffffff"/>
<line x1="262" y1="62" x2="189" y2="192.3" stroke="#111111" stroke-width="1.2" stroke-dasharray="5.5 3.8"/>
<line x1="285.6" y1="51.5" x2="366" y2="80" stroke="#34a052" stroke-width="1.2" stroke-dasharray="5.5 3.8"/>
<line x1="219" y1="165" x2="185" y2="313" stroke="#8a55b0" stroke-width="1.2" stroke-dasharray="5.5 3.8"/>
<line x1="307" y1="141" x2="290" y2="314" stroke="#e8304f" stroke-width="1.2" stroke-dasharray="5.5 3.8"/>
<line x1="330" y1="189" x2="366.4" y2="219" stroke="#3b78b8" stroke-width="1.2" stroke-dasharray="5.5 3.8"/>
<circle cx="264.7" cy="58.5" r="4.3" fill="none" stroke="#111111" stroke-width="1.1" stroke-dasharray="1.6 1.4"/>
<circle cx="280" cy="50.4" r="5.6" fill="none" stroke="#34a052" stroke-width="1.1" stroke-dasharray="1.6 1.4"/>
<ellipse cx="220.3" cy="159.2" rx="8" ry="7" fill="none" stroke="#8a55b0" stroke-width="1.1" stroke-dasharray="1.6 1.4"/>
<circle cx="308.7" cy="128.2" r="11.5" fill="none" stroke="#e8304f" stroke-width="1.1" stroke-dasharray="1.6 1.4"/>
<circle cx="325.5" cy="185.5" r="5.0" fill="none" stroke="#3b78b8" stroke-width="1.1" stroke-dasharray="1.6 1.4"/>
<rect x="396.10" y="341.51" width="17.2" height="92.59" fill="#f4aa66"/>
<line x1="404.70" y1="334.33" x2="404.70" y2="348.69" stroke="#333" stroke-width="0.6"/>
<line x1="402.50" y1="334.33" x2="406.90" y2="334.33" stroke="#333" stroke-width="0.6"/>
<line x1="402.50" y1="348.69" x2="406.90" y2="348.69" stroke="#333" stroke-width="0.6"/>
<rect x="420.20" y="341.81" width="17.2" height="92.30" fill="#6cb33f"/>
<line x1="428.80" y1="341.22" x2="428.80" y2="342.39" stroke="#333" stroke-width="0.6"/>
<line x1="426.60" y1="341.22" x2="431.00" y2="341.22" stroke="#333" stroke-width="0.6"/>
<line x1="426.60" y1="342.39" x2="431.00" y2="342.39" stroke="#333" stroke-width="0.6"/>
<rect x="444.80" y="341.37" width="17.2" height="92.73" fill="#7dc4be"/>
<line x1="453.40" y1="340.78" x2="453.40" y2="341.95" stroke="#333" stroke-width="0.6"/>
<line x1="451.20" y1="340.78" x2="455.60" y2="340.78" stroke="#333" stroke-width="0.6"/>
<line x1="451.20" y1="341.95" x2="455.60" y2="341.95" stroke="#333" stroke-width="0.6"/>
<rect x="469.10" y="341.95" width="17.2" height="92.15" fill="#2866b0"/>
<line x1="477.70" y1="340.78" x2="477.70" y2="343.12" stroke="#333" stroke-width="0.6"/>
<line x1="475.50" y1="340.78" x2="479.90" y2="340.78" stroke="#333" stroke-width="0.6"/>
<line x1="475.50" y1="343.12" x2="479.90" y2="343.12" stroke="#333" stroke-width="0.6"/>
<rect x="493.30" y="341.51" width="17.2" height="92.59" fill="#8e5ca8"/>
<line x1="501.90" y1="340.19" x2="501.90" y2="342.83" stroke="#333" stroke-width="0.6"/>
<line x1="499.70" y1="340.19" x2="504.10" y2="340.19" stroke="#333" stroke-width="0.6"/>
<line x1="499.70" y1="342.83" x2="504.10" y2="342.83" stroke="#333" stroke-width="0.6"/>
<rect x="517.80" y="341.22" width="17.2" height="92.88" fill="#e25b3b"/>
<line x1="526.40" y1="340.63" x2="526.40" y2="341.81" stroke="#333" stroke-width="0.6"/>
<line x1="524.20" y1="340.63" x2="528.60" y2="340.63" stroke="#333" stroke-width="0.6"/>
<line x1="524.20" y1="341.81" x2="528.60" y2="341.81" stroke="#333" stroke-width="0.6"/>
<rect x="392.40" y="316.90" width="146.10" height="117.20" fill="none" stroke="#3a3a3a" stroke-width="1.25"/>
<line x1="404.70" y1="434.10" x2="404.70" y2="436.30" stroke="#3a3a3a" stroke-width="0.9"/>
<text x="408.60" y="445.70" font-size="7.5" text-anchor="end" fill="#111" transform="rotate(-30 408.60 445.70)">Press</text>
<line x1="428.80" y1="434.10" x2="428.80" y2="436.30" stroke="#3a3a3a" stroke-width="0.9"/>
<text x="432.70" y="445.70" font-size="7.5" text-anchor="end" fill="#111" transform="rotate(-30 432.70 445.70)">Nod</text>
<line x1="453.40" y1="434.10" x2="453.40" y2="436.30" stroke="#3a3a3a" stroke-width="0.9"/>
<text x="457.30" y="445.70" font-size="7.5" text-anchor="end" fill="#111" transform="rotate(-30 457.30 445.70)">Swallow</text>
<line x1="477.70" y1="434.10" x2="477.70" y2="436.30" stroke="#3a3a3a" stroke-width="0.9"/>
<text x="481.60" y="445.70" font-size="7.5" text-anchor="end" fill="#111" transform="rotate(-30 481.60 445.70)">Bend finger</text>
<line x1="501.90" y1="434.10" x2="501.90" y2="436.30" stroke="#3a3a3a" stroke-width="0.9"/>
<text x="505.80" y="445.70" font-size="7.5" text-anchor="end" fill="#111" transform="rotate(-30 505.80 445.70)">Bent wrist</text>
<line x1="526.40" y1="434.10" x2="526.40" y2="436.30" stroke="#3a3a3a" stroke-width="0.9"/>
<text x="530.30" y="445.70" font-size="7.5" text-anchor="end" fill="#111" transform="rotate(-30 530.30 445.70)">Bent elbow</text>
<line x1="390.20" y1="419.45" x2="392.40" y2="419.45" stroke="#3a3a3a" stroke-width="0.9"/>
<text x="388.30" y="421.45" font-size="6.7" text-anchor="end" fill="#222">80</text>
<line x1="390.20" y1="390.15" x2="392.40" y2="390.15" stroke="#3a3a3a" stroke-width="0.9"/>
<text x="388.30" y="392.15" font-size="6.7" text-anchor="end" fill="#222">100</text>
<line x1="390.20" y1="360.85" x2="392.40" y2="360.85" stroke="#3a3a3a" stroke-width="0.9"/>
<text x="388.30" y="362.85" font-size="6.7" text-anchor="end" fill="#222">120</text>
<line x1="390.20" y1="331.55" x2="392.40" y2="331.55" stroke="#3a3a3a" stroke-width="0.9"/>
<text x="388.30" y="333.55" font-size="6.7" text-anchor="end" fill="#222">140</text>
<line x1="391.10" y1="404.80" x2="392.40" y2="404.80" stroke="#3a3a3a" stroke-width="0.8"/>
<line x1="391.10" y1="375.50" x2="392.40" y2="375.50" stroke="#3a3a3a" stroke-width="0.8"/>
<line x1="391.10" y1="346.20" x2="392.40" y2="346.20" stroke="#3a3a3a" stroke-width="0.8"/>
<text x="373.2" y="376.3" font-size="7.7" text-anchor="middle" fill="#111" transform="rotate(-90 373.2 376.3)">Response time (ms)</text>
</svg>
</body></html>
